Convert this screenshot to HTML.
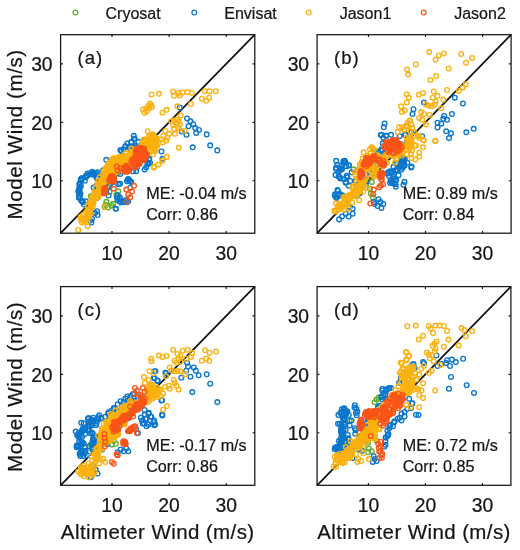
<!DOCTYPE html><html><head><meta charset="utf-8"><title>Wind scatter</title><style>html,body{margin:0;padding:0;background:#fff}svg{display:block}</style></head><body><svg width="520" height="550" viewBox="0 0 520 550" font-family="'Liberation Sans', sans-serif" fill="#151515">
<rect width="520" height="550" fill="#fff"/>
<style>text{stroke:#151515;stroke-width:0.22px}</style>
<circle cx="75.5" cy="12.6" r="2.4" fill="none" stroke="#5aae2a" stroke-width="1.2"/>
<text x="105.5" y="19.4" font-size="16">Cryosat</text>
<circle cx="194.3" cy="12.6" r="2.4" fill="none" stroke="#0a76cc" stroke-width="1.2"/>
<text x="224.3" y="19.4" font-size="16">Envisat</text>
<circle cx="308.7" cy="12.6" r="2.4" fill="none" stroke="#fab10f" stroke-width="1.2"/>
<text x="339.7" y="19.4" font-size="16">Jason1</text>
<circle cx="423.7" cy="12.6" r="2.4" fill="none" stroke="#fa5416" stroke-width="1.2"/>
<text x="454.2" y="19.4" font-size="16">Jason2</text>
<line x1="60.6" y1="233.2" x2="254.8" y2="34.7" stroke="#111" stroke-width="1.75"/>
<g fill="none" stroke-width="1.35">
<g stroke="#5aae2a">
<circle cx="106.4" cy="201.9" r="2.35"/><circle cx="104.5" cy="206.9" r="2.35"/><circle cx="108.2" cy="207.5" r="2.35"/><circle cx="113.2" cy="203.8" r="2.35"/><circle cx="111.4" cy="205.6" r="2.35"/><circle cx="116.4" cy="195.0" r="2.35"/><circle cx="118.2" cy="191.2" r="2.35"/><circle cx="119.5" cy="183.8" r="2.35"/><circle cx="109.5" cy="191.9" r="2.35"/><circle cx="95.1" cy="191.2" r="2.35"/><circle cx="90.8" cy="196.2" r="2.35"/><circle cx="105.8" cy="205.0" r="2.35"/>
</g>
<g stroke="#0a76cc">
<circle cx="96.3" cy="173.0" r="2.35"/><circle cx="97.8" cy="172.2" r="2.35"/><circle cx="94.1" cy="172.9" r="2.35"/><circle cx="95.1" cy="174.4" r="2.35"/><circle cx="92.1" cy="171.8" r="2.35"/><circle cx="93.2" cy="174.0" r="2.35"/><circle cx="93.1" cy="174.8" r="2.35"/><circle cx="90.2" cy="173.6" r="2.35"/><circle cx="92.3" cy="174.1" r="2.35"/><circle cx="87.5" cy="173.6" r="2.35"/><circle cx="87.6" cy="175.6" r="2.35"/><circle cx="86.1" cy="175.8" r="2.35"/><circle cx="85.9" cy="177.1" r="2.35"/><circle cx="85.8" cy="177.1" r="2.35"/><circle cx="81.9" cy="178.4" r="2.35"/><circle cx="81.6" cy="178.2" r="2.35"/><circle cx="80.8" cy="179.2" r="2.35"/><circle cx="80.9" cy="180.3" r="2.35"/><circle cx="84.8" cy="180.8" r="2.35"/><circle cx="81.5" cy="180.3" r="2.35"/><circle cx="79.8" cy="183.5" r="2.35"/><circle cx="79.7" cy="184.2" r="2.35"/><circle cx="79.5" cy="183.7" r="2.35"/><circle cx="79.7" cy="184.9" r="2.35"/><circle cx="80.9" cy="186.3" r="2.35"/><circle cx="79.4" cy="187.9" r="2.35"/><circle cx="79.5" cy="188.3" r="2.35"/><circle cx="79.3" cy="189.9" r="2.35"/><circle cx="79.5" cy="191.8" r="2.35"/><circle cx="78.3" cy="191.3" r="2.35"/><circle cx="79.2" cy="193.7" r="2.35"/><circle cx="80.4" cy="193.8" r="2.35"/><circle cx="79.3" cy="195.9" r="2.35"/><circle cx="79.2" cy="196.6" r="2.35"/><circle cx="79.7" cy="196.6" r="2.35"/><circle cx="78.9" cy="197.8" r="2.35"/><circle cx="81.2" cy="200.8" r="2.35"/><circle cx="82.2" cy="201.3" r="2.35"/><circle cx="82.6" cy="201.6" r="2.35"/><circle cx="82.9" cy="202.2" r="2.35"/><circle cx="85.7" cy="201.4" r="2.35"/><circle cx="83.9" cy="204.5" r="2.35"/><circle cx="96.8" cy="178.2" r="2.35"/><circle cx="97.8" cy="178.1" r="2.35"/><circle cx="99.8" cy="183.0" r="2.35"/><circle cx="97.7" cy="184.0" r="2.35"/><circle cx="97.5" cy="184.4" r="2.35"/><circle cx="97.0" cy="187.7" r="2.35"/><circle cx="97.8" cy="190.0" r="2.35"/><circle cx="95.7" cy="192.4" r="2.35"/><circle cx="97.0" cy="211.2" r="2.35"/><circle cx="97.6" cy="215.0" r="2.35"/><circle cx="92.0" cy="218.8" r="2.35"/><circle cx="91.4" cy="222.5" r="2.35"/><circle cx="95.1" cy="213.1" r="2.35"/><circle cx="90.1" cy="220.6" r="2.35"/><circle cx="115.8" cy="208.8" r="2.35"/><circle cx="117.0" cy="197.5" r="2.35"/><circle cx="119.5" cy="201.2" r="2.35"/><circle cx="123.2" cy="201.2" r="2.35"/><circle cx="126.4" cy="200.0" r="2.35"/><circle cx="117.6" cy="200.0" r="2.35"/><circle cx="120.8" cy="202.5" r="2.35"/><circle cx="127.0" cy="181.2" r="2.35"/><circle cx="120.1" cy="183.8" r="2.35"/><circle cx="119.6" cy="197.3" r="2.35"/><circle cx="127.3" cy="202.1" r="2.35"/><circle cx="129.2" cy="180.0" r="2.35"/><circle cx="115.8" cy="208.8" r="2.35"/><circle cx="133.1" cy="171.3" r="2.35"/><circle cx="136.9" cy="167.5" r="2.35"/><circle cx="147.5" cy="162.7" r="2.35"/><circle cx="145.6" cy="158.8" r="2.35"/><circle cx="125.4" cy="146.3" r="2.35"/><circle cx="134.0" cy="138.7" r="2.35"/><circle cx="131.2" cy="142.5" r="2.35"/><circle cx="106.2" cy="159.8" r="2.35"/><circle cx="123.5" cy="149.2" r="2.35"/><circle cx="127.3" cy="143.5" r="2.35"/><circle cx="117.7" cy="195.4" r="2.35"/><circle cx="120.6" cy="199.2" r="2.35"/><circle cx="124.4" cy="202.1" r="2.35"/><circle cx="128.3" cy="201.2" r="2.35"/><circle cx="130.2" cy="187.7" r="2.35"/><circle cx="131.2" cy="181.9" r="2.35"/><circle cx="128.3" cy="179.0" r="2.35"/><circle cx="133.8" cy="135.8" r="2.35"/><circle cx="134.6" cy="138.8" r="2.35"/><circle cx="131.5" cy="141.9" r="2.35"/><circle cx="125.4" cy="146.5" r="2.35"/><circle cx="129.2" cy="147.3" r="2.35"/><circle cx="121.5" cy="151.2" r="2.35"/><circle cx="138.5" cy="141.9" r="2.35"/><circle cx="149.2" cy="158.8" r="2.35"/><circle cx="146.2" cy="157.3" r="2.35"/><circle cx="148.5" cy="163.5" r="2.35"/><circle cx="179.8" cy="107.5" r="2.35"/><circle cx="187.1" cy="118.5" r="2.35"/><circle cx="190.4" cy="121.3" r="2.35"/><circle cx="188.5" cy="126.2" r="2.35"/><circle cx="193.3" cy="124.2" r="2.35"/><circle cx="195.2" cy="128.1" r="2.35"/><circle cx="199.0" cy="130.0" r="2.35"/><circle cx="196.2" cy="132.9" r="2.35"/><circle cx="181.7" cy="131.5" r="2.35"/><circle cx="186.5" cy="134.8" r="2.35"/><circle cx="206.7" cy="134.4" r="2.35"/><circle cx="192.7" cy="147.3" r="2.35"/><circle cx="210.2" cy="145.4" r="2.35"/><circle cx="217.3" cy="150.4" r="2.35"/><circle cx="161.5" cy="151.5" r="2.35"/><circle cx="162.5" cy="158.8" r="2.35"/><circle cx="96.9" cy="197.9" r="2.35"/><circle cx="106.0" cy="191.7" r="2.35"/><circle cx="93.6" cy="187.6" r="2.35"/><circle cx="103.4" cy="192.8" r="2.35"/><circle cx="109.9" cy="184.5" r="2.35"/><circle cx="103.6" cy="190.7" r="2.35"/><circle cx="103.6" cy="175.8" r="2.35"/><circle cx="108.6" cy="195.5" r="2.35"/><circle cx="110.1" cy="179.6" r="2.35"/><circle cx="104.4" cy="183.5" r="2.35"/><circle cx="118.1" cy="183.9" r="2.35"/><circle cx="108.1" cy="186.8" r="2.35"/><circle cx="107.9" cy="186.9" r="2.35"/><circle cx="105.8" cy="175.0" r="2.35"/><circle cx="112.8" cy="182.3" r="2.35"/><circle cx="113.3" cy="176.0" r="2.35"/><circle cx="103.2" cy="170.4" r="2.35"/><circle cx="109.7" cy="170.1" r="2.35"/><circle cx="116.1" cy="170.0" r="2.35"/><circle cx="118.1" cy="170.8" r="2.35"/><circle cx="114.1" cy="169.9" r="2.35"/><circle cx="118.6" cy="172.2" r="2.35"/><circle cx="115.5" cy="166.3" r="2.35"/><circle cx="112.6" cy="173.5" r="2.35"/><circle cx="126.3" cy="164.4" r="2.35"/><circle cx="118.7" cy="158.6" r="2.35"/><circle cx="122.6" cy="164.1" r="2.35"/><circle cx="132.7" cy="163.2" r="2.35"/><circle cx="120.4" cy="150.1" r="2.35"/><circle cx="131.3" cy="160.9" r="2.35"/><circle cx="119.0" cy="160.0" r="2.35"/><circle cx="120.2" cy="174.0" r="2.35"/><circle cx="133.7" cy="160.1" r="2.35"/><circle cx="129.1" cy="147.1" r="2.35"/><circle cx="130.5" cy="148.9" r="2.35"/><circle cx="135.0" cy="145.5" r="2.35"/><circle cx="129.5" cy="159.8" r="2.35"/><circle cx="142.2" cy="148.1" r="2.35"/><circle cx="129.1" cy="156.6" r="2.35"/><circle cx="141.1" cy="147.4" r="2.35"/><circle cx="135.4" cy="147.9" r="2.35"/><circle cx="134.4" cy="147.1" r="2.35"/><circle cx="146.6" cy="152.5" r="2.35"/><circle cx="151.4" cy="148.1" r="2.35"/><circle cx="142.7" cy="143.2" r="2.35"/><circle cx="144.0" cy="140.9" r="2.35"/><circle cx="137.8" cy="149.1" r="2.35"/><circle cx="153.5" cy="148.9" r="2.35"/><circle cx="154.2" cy="145.4" r="2.35"/><circle cx="146.2" cy="143.8" r="2.35"/><circle cx="146.2" cy="167.3" r="2.35"/><circle cx="147.7" cy="164.2" r="2.35"/><circle cx="149.2" cy="159.6" r="2.35"/><circle cx="136.2" cy="171.2" r="2.35"/><circle cx="130.8" cy="168.1" r="2.35"/><circle cx="144.6" cy="169.6" r="2.35"/><circle cx="150.0" cy="162.7" r="2.35"/><circle cx="127.7" cy="179.6" r="2.35"/><circle cx="130.0" cy="181.2" r="2.35"/>
</g>
<g stroke="#fab10f">
<circle cx="83.3" cy="218.2" r="2.35"/><circle cx="80.8" cy="216.7" r="2.35"/><circle cx="84.8" cy="219.6" r="2.35"/><circle cx="84.2" cy="221.7" r="2.35"/><circle cx="85.9" cy="219.2" r="2.35"/><circle cx="88.6" cy="215.4" r="2.35"/><circle cx="81.9" cy="218.2" r="2.35"/><circle cx="85.1" cy="218.7" r="2.35"/><circle cx="87.7" cy="217.4" r="2.35"/><circle cx="88.9" cy="209.9" r="2.35"/><circle cx="89.2" cy="212.3" r="2.35"/><circle cx="86.3" cy="212.2" r="2.35"/><circle cx="89.9" cy="214.3" r="2.35"/><circle cx="90.7" cy="208.0" r="2.35"/><circle cx="87.5" cy="205.7" r="2.35"/><circle cx="88.8" cy="211.6" r="2.35"/><circle cx="87.6" cy="210.1" r="2.35"/><circle cx="90.1" cy="211.0" r="2.35"/><circle cx="88.0" cy="206.3" r="2.35"/><circle cx="88.4" cy="211.2" r="2.35"/><circle cx="92.8" cy="206.4" r="2.35"/><circle cx="91.1" cy="206.2" r="2.35"/><circle cx="91.4" cy="204.8" r="2.35"/><circle cx="90.5" cy="201.8" r="2.35"/><circle cx="90.2" cy="207.5" r="2.35"/><circle cx="93.2" cy="203.3" r="2.35"/><circle cx="91.9" cy="202.7" r="2.35"/><circle cx="93.6" cy="200.4" r="2.35"/><circle cx="93.6" cy="201.7" r="2.35"/><circle cx="91.9" cy="198.8" r="2.35"/><circle cx="91.7" cy="197.5" r="2.35"/><circle cx="96.3" cy="194.0" r="2.35"/><circle cx="94.1" cy="197.2" r="2.35"/><circle cx="93.7" cy="198.1" r="2.35"/><circle cx="98.0" cy="197.4" r="2.35"/><circle cx="95.6" cy="195.2" r="2.35"/><circle cx="96.1" cy="198.0" r="2.35"/><circle cx="95.9" cy="192.8" r="2.35"/><circle cx="94.4" cy="192.2" r="2.35"/><circle cx="94.6" cy="196.5" r="2.35"/><circle cx="98.8" cy="192.9" r="2.35"/><circle cx="101.7" cy="191.3" r="2.35"/><circle cx="100.6" cy="193.9" r="2.35"/><circle cx="95.8" cy="188.0" r="2.35"/><circle cx="97.3" cy="192.7" r="2.35"/><circle cx="102.4" cy="187.2" r="2.35"/><circle cx="102.1" cy="188.4" r="2.35"/><circle cx="99.1" cy="187.2" r="2.35"/><circle cx="99.5" cy="183.7" r="2.35"/><circle cx="98.2" cy="184.3" r="2.35"/><circle cx="101.7" cy="190.8" r="2.35"/><circle cx="106.9" cy="184.8" r="2.35"/><circle cx="97.3" cy="183.9" r="2.35"/><circle cx="99.2" cy="188.4" r="2.35"/><circle cx="102.7" cy="181.7" r="2.35"/><circle cx="103.8" cy="183.7" r="2.35"/><circle cx="98.3" cy="180.7" r="2.35"/><circle cx="101.6" cy="181.1" r="2.35"/><circle cx="102.6" cy="179.6" r="2.35"/><circle cx="103.0" cy="178.3" r="2.35"/><circle cx="100.8" cy="182.2" r="2.35"/><circle cx="103.8" cy="179.1" r="2.35"/><circle cx="99.8" cy="177.1" r="2.35"/><circle cx="105.4" cy="173.9" r="2.35"/><circle cx="106.4" cy="175.2" r="2.35"/><circle cx="105.2" cy="175.1" r="2.35"/><circle cx="105.1" cy="177.3" r="2.35"/><circle cx="104.1" cy="177.4" r="2.35"/><circle cx="103.6" cy="171.3" r="2.35"/><circle cx="107.2" cy="170.3" r="2.35"/><circle cx="105.2" cy="173.9" r="2.35"/><circle cx="109.0" cy="167.4" r="2.35"/><circle cx="107.8" cy="174.7" r="2.35"/><circle cx="109.7" cy="169.4" r="2.35"/><circle cx="106.3" cy="168.7" r="2.35"/><circle cx="105.6" cy="168.2" r="2.35"/><circle cx="108.3" cy="168.0" r="2.35"/><circle cx="111.9" cy="167.2" r="2.35"/><circle cx="106.6" cy="169.5" r="2.35"/><circle cx="108.0" cy="165.7" r="2.35"/><circle cx="110.6" cy="165.4" r="2.35"/><circle cx="109.2" cy="165.0" r="2.35"/><circle cx="116.8" cy="163.7" r="2.35"/><circle cx="112.3" cy="167.1" r="2.35"/><circle cx="114.9" cy="165.9" r="2.35"/><circle cx="115.9" cy="159.5" r="2.35"/><circle cx="112.7" cy="163.8" r="2.35"/><circle cx="116.4" cy="166.0" r="2.35"/><circle cx="117.0" cy="162.2" r="2.35"/><circle cx="116.7" cy="161.9" r="2.35"/><circle cx="117.8" cy="163.5" r="2.35"/><circle cx="117.2" cy="159.8" r="2.35"/><circle cx="116.7" cy="163.6" r="2.35"/><circle cx="122.1" cy="163.0" r="2.35"/><circle cx="121.9" cy="162.3" r="2.35"/><circle cx="120.7" cy="161.6" r="2.35"/><circle cx="119.0" cy="159.4" r="2.35"/><circle cx="120.4" cy="161.1" r="2.35"/><circle cx="121.5" cy="158.9" r="2.35"/><circle cx="124.3" cy="161.8" r="2.35"/><circle cx="122.4" cy="156.4" r="2.35"/><circle cx="126.6" cy="155.7" r="2.35"/><circle cx="126.5" cy="156.5" r="2.35"/><circle cx="125.9" cy="153.4" r="2.35"/><circle cx="128.4" cy="156.0" r="2.35"/><circle cx="125.5" cy="161.3" r="2.35"/><circle cx="129.7" cy="164.0" r="2.35"/><circle cx="129.7" cy="155.1" r="2.35"/><circle cx="129.7" cy="159.0" r="2.35"/><circle cx="130.1" cy="156.0" r="2.35"/><circle cx="131.9" cy="152.6" r="2.35"/><circle cx="131.7" cy="153.1" r="2.35"/><circle cx="129.3" cy="155.8" r="2.35"/><circle cx="134.2" cy="153.6" r="2.35"/><circle cx="131.4" cy="148.6" r="2.35"/><circle cx="135.1" cy="152.4" r="2.35"/><circle cx="131.0" cy="152.1" r="2.35"/><circle cx="132.0" cy="151.7" r="2.35"/><circle cx="136.3" cy="152.2" r="2.35"/><circle cx="137.1" cy="151.4" r="2.35"/><circle cx="134.8" cy="149.7" r="2.35"/><circle cx="136.8" cy="149.7" r="2.35"/><circle cx="139.2" cy="151.1" r="2.35"/><circle cx="142.8" cy="143.7" r="2.35"/><circle cx="140.8" cy="148.5" r="2.35"/><circle cx="145.5" cy="150.6" r="2.35"/><circle cx="137.5" cy="149.0" r="2.35"/><circle cx="140.7" cy="149.9" r="2.35"/><circle cx="140.1" cy="147.1" r="2.35"/><circle cx="142.8" cy="146.7" r="2.35"/><circle cx="142.5" cy="142.5" r="2.35"/><circle cx="145.5" cy="148.4" r="2.35"/><circle cx="145.0" cy="143.5" r="2.35"/><circle cx="146.2" cy="146.6" r="2.35"/><circle cx="146.1" cy="145.0" r="2.35"/><circle cx="150.2" cy="142.2" r="2.35"/><circle cx="146.6" cy="140.1" r="2.35"/><circle cx="146.9" cy="142.3" r="2.35"/><circle cx="147.0" cy="142.0" r="2.35"/><circle cx="153.7" cy="142.7" r="2.35"/><circle cx="150.1" cy="147.5" r="2.35"/><circle cx="150.9" cy="138.4" r="2.35"/><circle cx="152.5" cy="139.6" r="2.35"/><circle cx="155.8" cy="138.5" r="2.35"/><circle cx="151.5" cy="137.2" r="2.35"/><circle cx="153.6" cy="138.0" r="2.35"/><circle cx="153.8" cy="138.9" r="2.35"/><circle cx="153.2" cy="141.3" r="2.35"/><circle cx="157.2" cy="138.9" r="2.35"/><circle cx="153.7" cy="135.9" r="2.35"/><circle cx="117.9" cy="160.7" r="2.35"/><circle cx="120.0" cy="163.4" r="2.35"/><circle cx="115.5" cy="163.7" r="2.35"/><circle cx="122.7" cy="164.8" r="2.35"/><circle cx="120.6" cy="166.1" r="2.35"/><circle cx="109.5" cy="169.0" r="2.35"/><circle cx="109.2" cy="163.4" r="2.35"/><circle cx="114.1" cy="174.7" r="2.35"/><circle cx="116.9" cy="164.7" r="2.35"/><circle cx="126.7" cy="157.7" r="2.35"/><circle cx="120.4" cy="166.7" r="2.35"/><circle cx="108.0" cy="171.6" r="2.35"/><circle cx="108.4" cy="171.7" r="2.35"/><circle cx="114.1" cy="158.6" r="2.35"/><circle cx="124.9" cy="156.4" r="2.35"/><circle cx="117.3" cy="166.2" r="2.35"/><circle cx="110.8" cy="165.7" r="2.35"/><circle cx="119.8" cy="163.4" r="2.35"/><circle cx="113.0" cy="172.0" r="2.35"/><circle cx="110.6" cy="174.8" r="2.35"/><circle cx="117.1" cy="172.1" r="2.35"/><circle cx="114.0" cy="166.6" r="2.35"/><circle cx="120.4" cy="170.0" r="2.35"/><circle cx="120.4" cy="161.1" r="2.35"/><circle cx="114.4" cy="159.3" r="2.35"/><circle cx="118.1" cy="162.8" r="2.35"/><circle cx="112.9" cy="160.8" r="2.35"/><circle cx="116.1" cy="168.5" r="2.35"/><circle cx="112.6" cy="163.7" r="2.35"/><circle cx="116.8" cy="163.2" r="2.35"/><circle cx="122.2" cy="160.8" r="2.35"/><circle cx="118.5" cy="158.3" r="2.35"/><circle cx="123.2" cy="161.7" r="2.35"/><circle cx="110.5" cy="165.6" r="2.35"/><circle cx="120.5" cy="162.9" r="2.35"/><circle cx="119.0" cy="165.4" r="2.35"/><circle cx="118.5" cy="157.4" r="2.35"/><circle cx="110.0" cy="169.0" r="2.35"/><circle cx="114.8" cy="158.8" r="2.35"/><circle cx="112.7" cy="160.0" r="2.35"/><circle cx="108.3" cy="175.2" r="2.35"/><circle cx="118.1" cy="166.1" r="2.35"/><circle cx="112.8" cy="167.7" r="2.35"/><circle cx="107.9" cy="169.2" r="2.35"/><circle cx="124.4" cy="164.8" r="2.35"/><circle cx="123.8" cy="161.2" r="2.35"/><circle cx="119.0" cy="157.4" r="2.35"/><circle cx="111.8" cy="164.3" r="2.35"/><circle cx="121.4" cy="158.4" r="2.35"/><circle cx="112.4" cy="169.4" r="2.35"/><circle cx="125.2" cy="165.7" r="2.35"/><circle cx="112.9" cy="165.5" r="2.35"/><circle cx="117.0" cy="164.2" r="2.35"/><circle cx="118.0" cy="159.9" r="2.35"/><circle cx="111.0" cy="172.7" r="2.35"/><circle cx="104.7" cy="171.1" r="2.35"/><circle cx="122.6" cy="163.6" r="2.35"/><circle cx="107.6" cy="165.6" r="2.35"/><circle cx="114.7" cy="170.7" r="2.35"/><circle cx="109.2" cy="163.8" r="2.35"/><circle cx="78.2" cy="230.0" r="2.35"/><circle cx="82.0" cy="222.5" r="2.35"/><circle cx="87.6" cy="226.2" r="2.35"/><circle cx="80.8" cy="220.0" r="2.35"/><circle cx="85.1" cy="218.8" r="2.35"/><circle cx="83.2" cy="215.0" r="2.35"/><circle cx="87.0" cy="221.9" r="2.35"/><circle cx="88.9" cy="217.5" r="2.35"/><circle cx="154.2" cy="166.5" r="2.35"/><circle cx="105.2" cy="206.9" r="2.35"/><circle cx="143.1" cy="109.6" r="2.35"/><circle cx="144.6" cy="112.7" r="2.35"/><circle cx="146.9" cy="111.2" r="2.35"/><circle cx="149.2" cy="108.1" r="2.35"/><circle cx="150.0" cy="103.5" r="2.35"/><circle cx="148.5" cy="105.8" r="2.35"/><circle cx="146.2" cy="108.8" r="2.35"/><circle cx="147.7" cy="131.2" r="2.35"/><circle cx="153.2" cy="144.4" r="2.35"/><circle cx="156.0" cy="142.0" r="2.35"/><circle cx="154.5" cy="139.5" r="2.35"/><circle cx="147.8" cy="141.3" r="2.35"/><circle cx="146.8" cy="140.6" r="2.35"/><circle cx="148.4" cy="140.6" r="2.35"/><circle cx="148.9" cy="141.1" r="2.35"/><circle cx="146.1" cy="144.3" r="2.35"/><circle cx="154.4" cy="143.9" r="2.35"/><circle cx="155.0" cy="144.3" r="2.35"/><circle cx="145.8" cy="147.9" r="2.35"/><circle cx="155.6" cy="139.1" r="2.35"/><circle cx="143.7" cy="143.4" r="2.35"/><circle cx="150.9" cy="144.4" r="2.35"/><circle cx="156.8" cy="145.9" r="2.35"/><circle cx="151.0" cy="148.5" r="2.35"/><circle cx="153.6" cy="150.5" r="2.35"/><circle cx="144.6" cy="145.6" r="2.35"/><circle cx="145.4" cy="147.7" r="2.35"/><circle cx="152.4" cy="138.5" r="2.35"/><circle cx="146.4" cy="148.1" r="2.35"/><circle cx="150.6" cy="148.0" r="2.35"/><circle cx="148.8" cy="140.2" r="2.35"/><circle cx="156.8" cy="146.3" r="2.35"/><circle cx="150.2" cy="143.8" r="2.35"/><circle cx="153.4" cy="147.0" r="2.35"/><circle cx="156.1" cy="141.5" r="2.35"/><circle cx="154.8" cy="146.2" r="2.35"/><circle cx="155.2" cy="148.8" r="2.35"/><circle cx="156.6" cy="145.7" r="2.35"/><circle cx="150.6" cy="147.0" r="2.35"/><circle cx="154.5" cy="141.7" r="2.35"/><circle cx="149.2" cy="136.6" r="2.35"/><circle cx="148.6" cy="137.0" r="2.35"/><circle cx="146.2" cy="141.8" r="2.35"/><circle cx="144.2" cy="139.6" r="2.35"/><circle cx="145.0" cy="145.9" r="2.35"/><circle cx="154.1" cy="137.2" r="2.35"/><circle cx="144.2" cy="142.4" r="2.35"/><circle cx="151.5" cy="150.7" r="2.35"/><circle cx="113.9" cy="158.9" r="2.35"/><circle cx="114.8" cy="164.3" r="2.35"/><circle cx="120.8" cy="159.0" r="2.35"/><circle cx="113.9" cy="159.6" r="2.35"/><circle cx="113.7" cy="164.7" r="2.35"/><circle cx="116.0" cy="162.4" r="2.35"/><circle cx="124.6" cy="161.7" r="2.35"/><circle cx="115.2" cy="166.1" r="2.35"/><circle cx="126.2" cy="160.2" r="2.35"/><circle cx="120.0" cy="166.8" r="2.35"/><circle cx="118.9" cy="158.9" r="2.35"/><circle cx="124.3" cy="160.7" r="2.35"/><circle cx="119.7" cy="162.1" r="2.35"/><circle cx="121.9" cy="159.1" r="2.35"/><circle cx="111.0" cy="161.6" r="2.35"/><circle cx="117.1" cy="165.1" r="2.35"/><circle cx="122.8" cy="163.1" r="2.35"/><circle cx="113.4" cy="158.2" r="2.35"/><circle cx="116.2" cy="159.3" r="2.35"/><circle cx="125.5" cy="162.1" r="2.35"/><circle cx="115.3" cy="162.3" r="2.35"/><circle cx="113.3" cy="164.8" r="2.35"/><circle cx="125.1" cy="165.4" r="2.35"/><circle cx="112.2" cy="159.4" r="2.35"/><circle cx="122.9" cy="157.6" r="2.35"/><circle cx="118.9" cy="161.6" r="2.35"/><circle cx="126.9" cy="162.9" r="2.35"/><circle cx="125.3" cy="159.8" r="2.35"/><circle cx="151.5" cy="94.4" r="2.35"/><circle cx="159.0" cy="93.8" r="2.35"/><circle cx="173.1" cy="91.5" r="2.35"/><circle cx="174.0" cy="95.8" r="2.35"/><circle cx="178.8" cy="93.1" r="2.35"/><circle cx="179.8" cy="95.4" r="2.35"/><circle cx="182.7" cy="92.5" r="2.35"/><circle cx="187.5" cy="92.1" r="2.35"/><circle cx="191.9" cy="92.9" r="2.35"/><circle cx="204.8" cy="91.2" r="2.35"/><circle cx="209.6" cy="91.2" r="2.35"/><circle cx="215.8" cy="91.2" r="2.35"/><circle cx="201.9" cy="98.7" r="2.35"/><circle cx="206.3" cy="100.8" r="2.35"/><circle cx="209.2" cy="97.7" r="2.35"/><circle cx="191.0" cy="104.0" r="2.35"/><circle cx="166.7" cy="109.8" r="2.35"/><circle cx="162.5" cy="112.7" r="2.35"/><circle cx="177.3" cy="106.3" r="2.35"/><circle cx="180.8" cy="115.6" r="2.35"/><circle cx="171.2" cy="121.3" r="2.35"/><circle cx="174.0" cy="120.4" r="2.35"/><circle cx="176.9" cy="119.4" r="2.35"/><circle cx="178.8" cy="121.3" r="2.35"/><circle cx="176.0" cy="123.3" r="2.35"/><circle cx="179.8" cy="124.2" r="2.35"/><circle cx="173.1" cy="125.2" r="2.35"/><circle cx="177.9" cy="127.1" r="2.35"/><circle cx="174.0" cy="129.0" r="2.35"/><circle cx="178.8" cy="129.0" r="2.35"/><circle cx="184.6" cy="131.0" r="2.35"/><circle cx="175.0" cy="133.8" r="2.35"/><circle cx="169.2" cy="133.8" r="2.35"/><circle cx="165.4" cy="131.0" r="2.35"/><circle cx="163.5" cy="135.8" r="2.35"/><circle cx="167.3" cy="137.7" r="2.35"/><circle cx="161.5" cy="139.6" r="2.35"/><circle cx="162.5" cy="142.5" r="2.35"/><circle cx="166.3" cy="140.6" r="2.35"/><circle cx="178.8" cy="147.7" r="2.35"/><circle cx="166.7" cy="156.9" r="2.35"/><circle cx="162.5" cy="160.8" r="2.35"/><circle cx="158.7" cy="164.6" r="2.35"/><circle cx="153.8" cy="167.5" r="2.35"/><circle cx="151.0" cy="105.0" r="2.35"/><circle cx="151.9" cy="106.9" r="2.35"/><circle cx="155.5" cy="142.7" r="2.35"/><circle cx="155.7" cy="138.3" r="2.35"/><circle cx="153.8" cy="145.0" r="2.35"/><circle cx="151.1" cy="151.4" r="2.35"/><circle cx="152.2" cy="140.4" r="2.35"/><circle cx="150.5" cy="140.3" r="2.35"/><circle cx="153.2" cy="149.0" r="2.35"/><circle cx="152.5" cy="148.4" r="2.35"/><circle cx="150.7" cy="142.2" r="2.35"/><circle cx="153.2" cy="154.3" r="2.35"/><circle cx="155.7" cy="147.7" r="2.35"/><circle cx="154.9" cy="138.9" r="2.35"/><circle cx="153.9" cy="143.5" r="2.35"/><circle cx="155.5" cy="138.2" r="2.35"/><circle cx="154.3" cy="140.0" r="2.35"/><circle cx="152.6" cy="145.3" r="2.35"/><circle cx="152.1" cy="141.0" r="2.35"/><circle cx="152.7" cy="147.9" r="2.35"/><circle cx="151.8" cy="138.1" r="2.35"/><circle cx="155.1" cy="140.8" r="2.35"/><circle cx="156.5" cy="145.8" r="2.35"/><circle cx="155.0" cy="140.9" r="2.35"/><circle cx="154.7" cy="148.8" r="2.35"/><circle cx="151.2" cy="142.4" r="2.35"/><circle cx="155.8" cy="146.4" r="2.35"/><circle cx="150.6" cy="138.6" r="2.35"/><circle cx="152.8" cy="135.4" r="2.35"/><circle cx="156.4" cy="142.9" r="2.35"/><circle cx="153.5" cy="147.5" r="2.35"/><circle cx="155.3" cy="151.2" r="2.35"/><circle cx="152.7" cy="140.9" r="2.35"/><circle cx="152.9" cy="134.2" r="2.35"/>
</g>
<g stroke="#fa5416">
<circle cx="139.5" cy="156.8" r="2.35"/><circle cx="142.7" cy="155.8" r="2.35"/><circle cx="138.8" cy="156.2" r="2.35"/><circle cx="135.9" cy="153.3" r="2.35"/><circle cx="140.9" cy="157.7" r="2.35"/><circle cx="144.8" cy="155.8" r="2.35"/><circle cx="136.6" cy="157.5" r="2.35"/><circle cx="145.7" cy="155.1" r="2.35"/><circle cx="139.0" cy="154.6" r="2.35"/><circle cx="136.4" cy="156.9" r="2.35"/><circle cx="146.8" cy="154.8" r="2.35"/><circle cx="143.4" cy="158.2" r="2.35"/><circle cx="142.3" cy="151.4" r="2.35"/><circle cx="135.6" cy="151.9" r="2.35"/><circle cx="141.7" cy="156.7" r="2.35"/><circle cx="138.7" cy="159.2" r="2.35"/><circle cx="139.1" cy="154.2" r="2.35"/><circle cx="141.3" cy="155.3" r="2.35"/><circle cx="141.5" cy="152.1" r="2.35"/><circle cx="144.7" cy="155.7" r="2.35"/><circle cx="136.1" cy="158.1" r="2.35"/><circle cx="138.2" cy="158.9" r="2.35"/><circle cx="137.6" cy="155.4" r="2.35"/><circle cx="144.8" cy="151.2" r="2.35"/><circle cx="141.4" cy="150.1" r="2.35"/><circle cx="142.7" cy="152.5" r="2.35"/><circle cx="142.9" cy="157.2" r="2.35"/><circle cx="139.3" cy="155.6" r="2.35"/><circle cx="137.1" cy="154.3" r="2.35"/><circle cx="136.4" cy="153.4" r="2.35"/><circle cx="141.6" cy="151.1" r="2.35"/><circle cx="141.0" cy="152.1" r="2.35"/><circle cx="141.6" cy="152.8" r="2.35"/><circle cx="142.5" cy="149.6" r="2.35"/><circle cx="142.9" cy="150.8" r="2.35"/><circle cx="146.4" cy="155.7" r="2.35"/><circle cx="140.4" cy="153.7" r="2.35"/><circle cx="142.3" cy="156.7" r="2.35"/><circle cx="143.9" cy="157.3" r="2.35"/><circle cx="140.6" cy="159.9" r="2.35"/><circle cx="144.9" cy="158.4" r="2.35"/><circle cx="139.6" cy="153.9" r="2.35"/><circle cx="141.6" cy="159.0" r="2.35"/><circle cx="141.1" cy="154.9" r="2.35"/><circle cx="116.7" cy="166.5" r="2.35"/><circle cx="117.7" cy="170.4" r="2.35"/><circle cx="125.4" cy="166.5" r="2.35"/><circle cx="120.6" cy="168.5" r="2.35"/><circle cx="134.0" cy="185.8" r="2.35"/><circle cx="126.3" cy="189.6" r="2.35"/><circle cx="132.1" cy="191.5" r="2.35"/><circle cx="128.3" cy="194.4" r="2.35"/><circle cx="130.2" cy="197.3" r="2.35"/><circle cx="127.3" cy="201.2" r="2.35"/><circle cx="113.8" cy="188.7" r="2.35"/><circle cx="111.9" cy="181.4" r="2.35"/><circle cx="111.1" cy="176.5" r="2.35"/><circle cx="113.8" cy="181.3" r="2.35"/><circle cx="113.8" cy="179.6" r="2.35"/><circle cx="114.0" cy="177.9" r="2.35"/><circle cx="112.9" cy="176.6" r="2.35"/><circle cx="109.9" cy="178.7" r="2.35"/><circle cx="112.3" cy="178.4" r="2.35"/><circle cx="109.4" cy="180.2" r="2.35"/><circle cx="112.5" cy="177.5" r="2.35"/><circle cx="111.0" cy="178.4" r="2.35"/><circle cx="113.4" cy="181.2" r="2.35"/><circle cx="111.8" cy="180.8" r="2.35"/><circle cx="110.5" cy="180.5" r="2.35"/><circle cx="112.7" cy="181.4" r="2.35"/><circle cx="109.7" cy="180.7" r="2.35"/><circle cx="109.8" cy="179.3" r="2.35"/><circle cx="110.6" cy="177.9" r="2.35"/><circle cx="111.2" cy="176.5" r="2.35"/><circle cx="111.6" cy="178.2" r="2.35"/><circle cx="112.9" cy="176.4" r="2.35"/><circle cx="111.1" cy="179.0" r="2.35"/><circle cx="104.6" cy="188.8" r="2.35"/><circle cx="104.1" cy="193.2" r="2.35"/><circle cx="105.4" cy="189.7" r="2.35"/><circle cx="104.6" cy="188.6" r="2.35"/><circle cx="103.9" cy="191.4" r="2.35"/><circle cx="103.9" cy="192.9" r="2.35"/><circle cx="105.1" cy="189.4" r="2.35"/><circle cx="105.1" cy="188.3" r="2.35"/><circle cx="105.1" cy="193.3" r="2.35"/><circle cx="104.5" cy="188.0" r="2.35"/><circle cx="104.0" cy="189.4" r="2.35"/><circle cx="105.1" cy="188.7" r="2.35"/><circle cx="124.5" cy="167.4" r="2.35"/><circle cx="127.3" cy="171.7" r="2.35"/><circle cx="125.6" cy="170.7" r="2.35"/><circle cx="128.6" cy="170.1" r="2.35"/><circle cx="124.8" cy="167.9" r="2.35"/><circle cx="128.8" cy="170.7" r="2.35"/><circle cx="125.1" cy="170.5" r="2.35"/><circle cx="126.0" cy="169.6" r="2.35"/><circle cx="126.5" cy="165.9" r="2.35"/><circle cx="126.9" cy="167.8" r="2.35"/><circle cx="124.9" cy="171.8" r="2.35"/><circle cx="124.0" cy="167.8" r="2.35"/><circle cx="127.8" cy="167.5" r="2.35"/><circle cx="125.1" cy="169.8" r="2.35"/><circle cx="140.4" cy="151.8" r="2.35"/><circle cx="139.6" cy="152.8" r="2.35"/><circle cx="140.8" cy="148.6" r="2.35"/><circle cx="141.3" cy="151.2" r="2.35"/><circle cx="139.3" cy="151.3" r="2.35"/><circle cx="143.6" cy="150.5" r="2.35"/><circle cx="140.8" cy="152.3" r="2.35"/><circle cx="142.6" cy="150.5" r="2.35"/><circle cx="143.6" cy="148.5" r="2.35"/><circle cx="141.9" cy="148.9" r="2.35"/><circle cx="140.2" cy="151.9" r="2.35"/><circle cx="143.7" cy="152.0" r="2.35"/><circle cx="138.1" cy="150.3" r="2.35"/><circle cx="137.9" cy="150.8" r="2.35"/><circle cx="140.8" cy="147.8" r="2.35"/><circle cx="141.8" cy="151.6" r="2.35"/><circle cx="141.5" cy="152.4" r="2.35"/><circle cx="137.5" cy="148.5" r="2.35"/><circle cx="135.9" cy="150.4" r="2.35"/><circle cx="140.1" cy="150.1" r="2.35"/><circle cx="138.4" cy="152.0" r="2.35"/><circle cx="141.5" cy="150.6" r="2.35"/><circle cx="143.7" cy="148.9" r="2.35"/><circle cx="137.2" cy="149.3" r="2.35"/><circle cx="141.7" cy="156.9" r="2.35"/><circle cx="143.4" cy="158.2" r="2.35"/><circle cx="142.4" cy="158.6" r="2.35"/><circle cx="142.1" cy="156.6" r="2.35"/><circle cx="142.0" cy="159.3" r="2.35"/><circle cx="144.1" cy="159.8" r="2.35"/><circle cx="141.7" cy="157.5" r="2.35"/><circle cx="142.7" cy="156.3" r="2.35"/><circle cx="143.0" cy="159.7" r="2.35"/><circle cx="142.9" cy="159.6" r="2.35"/><circle cx="142.7" cy="156.8" r="2.35"/><circle cx="142.8" cy="155.5" r="2.35"/><circle cx="143.9" cy="159.5" r="2.35"/><circle cx="142.2" cy="156.6" r="2.35"/><circle cx="135.8" cy="159.9" r="2.35"/><circle cx="135.1" cy="167.3" r="2.35"/><circle cx="134.2" cy="160.9" r="2.35"/><circle cx="139.5" cy="163.9" r="2.35"/><circle cx="131.4" cy="161.6" r="2.35"/><circle cx="136.7" cy="157.9" r="2.35"/><circle cx="134.0" cy="164.8" r="2.35"/><circle cx="138.5" cy="163.7" r="2.35"/><circle cx="138.7" cy="162.3" r="2.35"/><circle cx="134.5" cy="166.4" r="2.35"/><circle cx="134.4" cy="165.7" r="2.35"/><circle cx="132.9" cy="161.0" r="2.35"/><circle cx="132.7" cy="163.2" r="2.35"/><circle cx="132.5" cy="159.5" r="2.35"/><circle cx="132.9" cy="162.3" r="2.35"/><circle cx="133.7" cy="162.1" r="2.35"/><circle cx="138.5" cy="159.5" r="2.35"/><circle cx="134.4" cy="158.1" r="2.35"/><circle cx="137.0" cy="161.2" r="2.35"/><circle cx="132.6" cy="160.1" r="2.35"/><circle cx="134.5" cy="167.3" r="2.35"/><circle cx="137.2" cy="160.2" r="2.35"/><circle cx="134.2" cy="159.0" r="2.35"/><circle cx="139.1" cy="161.2" r="2.35"/>
</g>
</g>
<rect x="60.6" y="34.7" width="194.2" height="198.5" fill="none" stroke="#151515" stroke-width="1.25"/>
<path d="M112.0 233.2v-2.3M112.0 34.7v2.3M60.6 180.7h2.3M254.8 180.7h-2.3M169.1 233.2v-2.3M169.1 34.7v2.3M60.6 122.3h2.3M254.8 122.3h-2.3M226.2 233.2v-2.3M226.2 34.7v2.3M60.6 63.9h2.3M254.8 63.9h-2.3" stroke="#151515" stroke-width="1.15" fill="none"/>
<text x="112.0" y="260.2" font-size="19.3" text-anchor="middle">10</text>
<text x="52.6"  y="187.9" font-size="19.3" text-anchor="end">10</text>
<text x="169.1" y="260.2" font-size="19.3" text-anchor="middle">20</text>
<text x="52.6"  y="129.5" font-size="19.3" text-anchor="end">20</text>
<text x="226.2" y="260.2" font-size="19.3" text-anchor="middle">30</text>
<text x="52.6"  y="71.1" font-size="19.3" text-anchor="end">30</text>
<text x="77.6" y="64.0" font-size="18.5" letter-spacing="1">(a)</text>
<line x1="317.1" y1="233.2" x2="511.1" y2="34.7" stroke="#111" stroke-width="1.75"/>
<g fill="none" stroke-width="1.35">
<g stroke="#5aae2a">
<circle cx="377.6" cy="151.2" r="2.35"/><circle cx="369.9" cy="188.7" r="2.35"/><circle cx="372.8" cy="197.3" r="2.35"/><circle cx="371.8" cy="181.9" r="2.35"/><circle cx="353.5" cy="169.4" r="2.35"/><circle cx="370.8" cy="193.5" r="2.35"/><circle cx="374.7" cy="153.1" r="2.35"/>
</g>
<g stroke="#0a76cc">
<circle cx="347.3" cy="177.3" r="2.35"/><circle cx="340.2" cy="169.1" r="2.35"/><circle cx="340.3" cy="178.4" r="2.35"/><circle cx="343.4" cy="161.2" r="2.35"/><circle cx="341.4" cy="165.6" r="2.35"/><circle cx="344.6" cy="160.7" r="2.35"/><circle cx="340.1" cy="170.1" r="2.35"/><circle cx="343.8" cy="163.2" r="2.35"/><circle cx="346.4" cy="166.2" r="2.35"/><circle cx="346.7" cy="175.9" r="2.35"/><circle cx="337.4" cy="164.8" r="2.35"/><circle cx="339.6" cy="177.0" r="2.35"/><circle cx="341.6" cy="169.2" r="2.35"/><circle cx="348.9" cy="165.3" r="2.35"/><circle cx="339.8" cy="168.2" r="2.35"/><circle cx="335.5" cy="175.1" r="2.35"/><circle cx="344.1" cy="179.3" r="2.35"/><circle cx="345.8" cy="182.0" r="2.35"/><circle cx="338.5" cy="176.5" r="2.35"/><circle cx="345.7" cy="182.8" r="2.35"/><circle cx="349.0" cy="165.6" r="2.35"/><circle cx="345.2" cy="162.1" r="2.35"/><circle cx="341.9" cy="169.3" r="2.35"/><circle cx="336.0" cy="169.1" r="2.35"/><circle cx="336.2" cy="160.8" r="2.35"/><circle cx="336.2" cy="167.5" r="2.35"/><circle cx="339.1" cy="171.3" r="2.35"/><circle cx="351.6" cy="172.3" r="2.35"/><circle cx="348.7" cy="185.8" r="2.35"/><circle cx="338.7" cy="195.7" r="2.35"/><circle cx="338.0" cy="191.0" r="2.35"/><circle cx="339.7" cy="195.4" r="2.35"/><circle cx="336.5" cy="198.1" r="2.35"/><circle cx="337.5" cy="190.1" r="2.35"/><circle cx="338.9" cy="194.7" r="2.35"/><circle cx="336.2" cy="196.9" r="2.35"/><circle cx="343.9" cy="196.5" r="2.35"/><circle cx="339.6" cy="193.9" r="2.35"/><circle cx="335.0" cy="194.4" r="2.35"/><circle cx="334.9" cy="195.7" r="2.35"/><circle cx="342.3" cy="195.3" r="2.35"/><circle cx="339.1" cy="219.4" r="2.35"/><circle cx="345.8" cy="213.7" r="2.35"/><circle cx="348.7" cy="216.5" r="2.35"/><circle cx="352.6" cy="213.7" r="2.35"/><circle cx="352.6" cy="208.8" r="2.35"/><circle cx="349.7" cy="206.9" r="2.35"/><circle cx="342.0" cy="216.5" r="2.35"/><circle cx="374.7" cy="204.0" r="2.35"/><circle cx="380.5" cy="202.1" r="2.35"/><circle cx="383.3" cy="204.0" r="2.35"/><circle cx="381.4" cy="207.9" r="2.35"/><circle cx="377.6" cy="206.0" r="2.35"/><circle cx="373.7" cy="202.1" r="2.35"/><circle cx="378.5" cy="199.2" r="2.35"/><circle cx="389.1" cy="176.2" r="2.35"/><circle cx="391.0" cy="180.0" r="2.35"/><circle cx="393.9" cy="183.8" r="2.35"/><circle cx="395.8" cy="186.7" r="2.35"/><circle cx="390.1" cy="182.9" r="2.35"/><circle cx="388.2" cy="172.3" r="2.35"/><circle cx="396.8" cy="170.4" r="2.35"/><circle cx="404.5" cy="181.9" r="2.35"/><circle cx="403.5" cy="184.8" r="2.35"/><circle cx="381.4" cy="134.8" r="2.35"/><circle cx="386.2" cy="135.8" r="2.35"/><circle cx="391.0" cy="134.8" r="2.35"/><circle cx="383.3" cy="137.7" r="2.35"/><circle cx="401.6" cy="160.8" r="2.35"/><circle cx="404.5" cy="165.6" r="2.35"/><circle cx="407.4" cy="162.7" r="2.35"/><circle cx="411.2" cy="167.5" r="2.35"/><circle cx="401.6" cy="156.9" r="2.35"/><circle cx="399.7" cy="165.6" r="2.35"/><circle cx="354.2" cy="195.8" r="2.35"/><circle cx="360.1" cy="192.6" r="2.35"/><circle cx="360.9" cy="187.6" r="2.35"/><circle cx="356.7" cy="196.3" r="2.35"/><circle cx="359.6" cy="193.4" r="2.35"/><circle cx="350.3" cy="181.0" r="2.35"/><circle cx="355.1" cy="191.2" r="2.35"/><circle cx="366.0" cy="183.5" r="2.35"/><circle cx="355.6" cy="180.8" r="2.35"/><circle cx="356.4" cy="186.4" r="2.35"/><circle cx="359.4" cy="190.9" r="2.35"/><circle cx="364.2" cy="179.2" r="2.35"/><circle cx="362.6" cy="180.5" r="2.35"/><circle cx="365.4" cy="183.9" r="2.35"/><circle cx="361.2" cy="182.8" r="2.35"/><circle cx="365.5" cy="177.8" r="2.35"/><circle cx="364.8" cy="180.0" r="2.35"/><circle cx="362.9" cy="173.4" r="2.35"/><circle cx="370.1" cy="175.3" r="2.35"/><circle cx="362.9" cy="176.2" r="2.35"/><circle cx="359.7" cy="173.6" r="2.35"/><circle cx="360.8" cy="170.6" r="2.35"/><circle cx="359.6" cy="168.4" r="2.35"/><circle cx="371.3" cy="169.7" r="2.35"/><circle cx="363.0" cy="176.7" r="2.35"/><circle cx="366.0" cy="174.7" r="2.35"/><circle cx="367.0" cy="161.5" r="2.35"/><circle cx="377.4" cy="164.8" r="2.35"/><circle cx="373.4" cy="170.6" r="2.35"/><circle cx="365.4" cy="165.0" r="2.35"/><circle cx="369.2" cy="166.4" r="2.35"/><circle cx="372.3" cy="157.9" r="2.35"/><circle cx="373.4" cy="165.5" r="2.35"/><circle cx="372.7" cy="163.9" r="2.35"/><circle cx="372.5" cy="160.6" r="2.35"/><circle cx="377.0" cy="160.6" r="2.35"/><circle cx="381.6" cy="163.1" r="2.35"/><circle cx="380.6" cy="161.4" r="2.35"/><circle cx="378.5" cy="152.8" r="2.35"/><circle cx="383.0" cy="164.1" r="2.35"/><circle cx="380.4" cy="155.0" r="2.35"/><circle cx="380.1" cy="160.3" r="2.35"/><circle cx="382.2" cy="150.5" r="2.35"/><circle cx="381.1" cy="150.6" r="2.35"/><circle cx="381.8" cy="149.3" r="2.35"/><circle cx="380.0" cy="158.7" r="2.35"/><circle cx="388.9" cy="145.4" r="2.35"/><circle cx="381.5" cy="149.7" r="2.35"/><circle cx="384.9" cy="145.3" r="2.35"/><circle cx="391.2" cy="143.9" r="2.35"/><circle cx="391.4" cy="152.9" r="2.35"/><circle cx="388.0" cy="146.8" r="2.35"/><circle cx="390.8" cy="149.7" r="2.35"/><circle cx="382.8" cy="143.4" r="2.35"/><circle cx="394.7" cy="147.6" r="2.35"/><circle cx="391.8" cy="143.5" r="2.35"/><circle cx="391.6" cy="143.9" r="2.35"/><circle cx="407.0" cy="141.4" r="2.35"/><circle cx="402.8" cy="148.1" r="2.35"/><circle cx="398.3" cy="146.4" r="2.35"/><circle cx="396.8" cy="151.7" r="2.35"/><circle cx="401.5" cy="144.4" r="2.35"/><circle cx="399.8" cy="144.7" r="2.35"/><circle cx="396.5" cy="142.0" r="2.35"/><circle cx="399.6" cy="145.3" r="2.35"/><circle cx="405.6" cy="134.5" r="2.35"/><circle cx="403.2" cy="145.7" r="2.35"/><circle cx="399.7" cy="136.2" r="2.35"/><circle cx="410.1" cy="140.0" r="2.35"/><circle cx="405.1" cy="134.9" r="2.35"/><circle cx="401.0" cy="163.9" r="2.35"/><circle cx="403.3" cy="166.4" r="2.35"/><circle cx="395.6" cy="163.3" r="2.35"/><circle cx="397.0" cy="163.8" r="2.35"/><circle cx="398.0" cy="166.9" r="2.35"/><circle cx="391.1" cy="171.9" r="2.35"/><circle cx="393.5" cy="166.6" r="2.35"/><circle cx="402.6" cy="167.8" r="2.35"/><circle cx="395.6" cy="184.2" r="2.35"/><circle cx="390.7" cy="181.1" r="2.35"/><circle cx="395.6" cy="170.3" r="2.35"/><circle cx="401.2" cy="169.8" r="2.35"/><circle cx="388.2" cy="173.5" r="2.35"/><circle cx="398.6" cy="175.2" r="2.35"/><circle cx="392.0" cy="182.8" r="2.35"/><circle cx="394.9" cy="180.3" r="2.35"/><circle cx="399.7" cy="164.6" r="2.35"/><circle cx="393.4" cy="178.4" r="2.35"/><circle cx="392.6" cy="172.6" r="2.35"/><circle cx="396.3" cy="179.7" r="2.35"/><circle cx="454.8" cy="97.7" r="2.35"/><circle cx="462.9" cy="103.5" r="2.35"/><circle cx="424.0" cy="102.5" r="2.35"/><circle cx="413.5" cy="109.2" r="2.35"/><circle cx="412.5" cy="114.0" r="2.35"/><circle cx="451.9" cy="114.0" r="2.35"/><circle cx="444.2" cy="116.0" r="2.35"/><circle cx="443.3" cy="118.8" r="2.35"/><circle cx="447.1" cy="119.8" r="2.35"/><circle cx="441.3" cy="123.7" r="2.35"/><circle cx="437.5" cy="122.7" r="2.35"/><circle cx="437.5" cy="127.5" r="2.35"/><circle cx="446.2" cy="131.3" r="2.35"/><circle cx="451.0" cy="133.3" r="2.35"/><circle cx="449.0" cy="138.1" r="2.35"/><circle cx="466.3" cy="132.3" r="2.35"/><circle cx="473.7" cy="128.8" r="2.35"/><circle cx="422.1" cy="136.2" r="2.35"/><circle cx="411.5" cy="132.3" r="2.35"/><circle cx="384.6" cy="123.5" r="2.35"/><circle cx="383.8" cy="127.3" r="2.35"/><circle cx="380.8" cy="135.0" r="2.35"/><circle cx="386.2" cy="135.8" r="2.35"/><circle cx="411.5" cy="166.5" r="2.35"/><circle cx="397.7" cy="170.4" r="2.35"/><circle cx="393.1" cy="175.8" r="2.35"/><circle cx="390.0" cy="171.2" r="2.35"/><circle cx="403.9" cy="161.2" r="2.35"/><circle cx="401.7" cy="161.7" r="2.35"/><circle cx="404.1" cy="161.4" r="2.35"/><circle cx="404.8" cy="159.0" r="2.35"/><circle cx="403.4" cy="157.9" r="2.35"/><circle cx="402.7" cy="157.8" r="2.35"/><circle cx="401.7" cy="158.7" r="2.35"/><circle cx="403.2" cy="161.7" r="2.35"/>
</g>
<g stroke="#fab10f">
<circle cx="335.1" cy="211.4" r="2.35"/><circle cx="336.6" cy="209.9" r="2.35"/><circle cx="340.1" cy="206.8" r="2.35"/><circle cx="340.5" cy="208.9" r="2.35"/><circle cx="339.0" cy="205.6" r="2.35"/><circle cx="339.4" cy="203.9" r="2.35"/><circle cx="339.3" cy="205.2" r="2.35"/><circle cx="341.4" cy="207.2" r="2.35"/><circle cx="339.2" cy="208.1" r="2.35"/><circle cx="344.1" cy="205.8" r="2.35"/><circle cx="339.8" cy="206.6" r="2.35"/><circle cx="336.0" cy="203.5" r="2.35"/><circle cx="343.9" cy="209.6" r="2.35"/><circle cx="341.1" cy="208.1" r="2.35"/><circle cx="349.0" cy="208.6" r="2.35"/><circle cx="337.9" cy="206.3" r="2.35"/><circle cx="344.6" cy="205.8" r="2.35"/><circle cx="344.1" cy="201.4" r="2.35"/><circle cx="344.4" cy="206.3" r="2.35"/><circle cx="347.4" cy="201.5" r="2.35"/><circle cx="346.7" cy="204.0" r="2.35"/><circle cx="347.6" cy="201.4" r="2.35"/><circle cx="345.0" cy="199.3" r="2.35"/><circle cx="345.9" cy="199.5" r="2.35"/><circle cx="343.5" cy="197.0" r="2.35"/><circle cx="350.0" cy="197.4" r="2.35"/><circle cx="345.0" cy="199.7" r="2.35"/><circle cx="352.3" cy="202.6" r="2.35"/><circle cx="348.1" cy="196.5" r="2.35"/><circle cx="348.2" cy="196.5" r="2.35"/><circle cx="348.6" cy="199.6" r="2.35"/><circle cx="347.7" cy="196.1" r="2.35"/><circle cx="350.1" cy="197.7" r="2.35"/><circle cx="349.3" cy="195.4" r="2.35"/><circle cx="348.8" cy="195.2" r="2.35"/><circle cx="353.3" cy="196.1" r="2.35"/><circle cx="344.7" cy="197.9" r="2.35"/><circle cx="352.6" cy="193.8" r="2.35"/><circle cx="352.6" cy="188.1" r="2.35"/><circle cx="349.5" cy="198.2" r="2.35"/><circle cx="359.2" cy="200.2" r="2.35"/><circle cx="352.4" cy="194.5" r="2.35"/><circle cx="356.4" cy="190.8" r="2.35"/><circle cx="359.1" cy="191.7" r="2.35"/><circle cx="355.9" cy="190.1" r="2.35"/><circle cx="356.2" cy="192.5" r="2.35"/><circle cx="358.3" cy="189.2" r="2.35"/><circle cx="355.9" cy="196.2" r="2.35"/><circle cx="353.2" cy="192.0" r="2.35"/><circle cx="357.6" cy="189.5" r="2.35"/><circle cx="356.1" cy="193.8" r="2.35"/><circle cx="359.9" cy="191.2" r="2.35"/><circle cx="358.0" cy="186.5" r="2.35"/><circle cx="357.8" cy="193.4" r="2.35"/><circle cx="360.5" cy="185.0" r="2.35"/><circle cx="353.0" cy="186.3" r="2.35"/><circle cx="358.9" cy="186.1" r="2.35"/><circle cx="358.1" cy="188.0" r="2.35"/><circle cx="361.4" cy="187.2" r="2.35"/><circle cx="362.7" cy="182.7" r="2.35"/><circle cx="361.0" cy="186.9" r="2.35"/><circle cx="356.5" cy="188.6" r="2.35"/><circle cx="356.6" cy="181.4" r="2.35"/><circle cx="367.6" cy="187.9" r="2.35"/><circle cx="362.2" cy="187.6" r="2.35"/><circle cx="364.5" cy="181.0" r="2.35"/><circle cx="363.2" cy="186.9" r="2.35"/><circle cx="361.9" cy="183.1" r="2.35"/><circle cx="361.5" cy="184.4" r="2.35"/><circle cx="361.6" cy="180.7" r="2.35"/><circle cx="360.0" cy="179.3" r="2.35"/><circle cx="363.5" cy="182.3" r="2.35"/><circle cx="361.8" cy="177.9" r="2.35"/><circle cx="363.5" cy="180.9" r="2.35"/><circle cx="365.7" cy="178.3" r="2.35"/><circle cx="361.3" cy="180.2" r="2.35"/><circle cx="366.0" cy="178.3" r="2.35"/><circle cx="361.8" cy="175.5" r="2.35"/><circle cx="361.0" cy="179.7" r="2.35"/><circle cx="363.9" cy="179.6" r="2.35"/><circle cx="357.5" cy="178.4" r="2.35"/><circle cx="359.1" cy="177.2" r="2.35"/><circle cx="355.4" cy="174.9" r="2.35"/><circle cx="358.9" cy="177.8" r="2.35"/><circle cx="361.3" cy="177.4" r="2.35"/><circle cx="359.8" cy="178.5" r="2.35"/><circle cx="359.6" cy="177.8" r="2.35"/><circle cx="359.4" cy="170.0" r="2.35"/><circle cx="362.7" cy="170.9" r="2.35"/><circle cx="360.1" cy="168.0" r="2.35"/><circle cx="359.6" cy="171.2" r="2.35"/><circle cx="358.9" cy="171.4" r="2.35"/><circle cx="355.1" cy="172.1" r="2.35"/><circle cx="360.1" cy="173.0" r="2.35"/><circle cx="360.4" cy="167.2" r="2.35"/><circle cx="360.4" cy="169.0" r="2.35"/><circle cx="363.2" cy="166.6" r="2.35"/><circle cx="359.9" cy="168.3" r="2.35"/><circle cx="364.2" cy="162.3" r="2.35"/><circle cx="359.7" cy="164.5" r="2.35"/><circle cx="366.9" cy="168.8" r="2.35"/><circle cx="364.8" cy="166.4" r="2.35"/><circle cx="360.1" cy="167.5" r="2.35"/><circle cx="362.0" cy="162.1" r="2.35"/><circle cx="368.3" cy="160.0" r="2.35"/><circle cx="367.1" cy="163.6" r="2.35"/><circle cx="361.5" cy="163.0" r="2.35"/><circle cx="361.9" cy="162.5" r="2.35"/><circle cx="362.7" cy="158.6" r="2.35"/><circle cx="371.5" cy="160.1" r="2.35"/><circle cx="367.8" cy="161.0" r="2.35"/><circle cx="367.5" cy="157.6" r="2.35"/><circle cx="363.6" cy="152.3" r="2.35"/><circle cx="369.3" cy="161.4" r="2.35"/><circle cx="364.3" cy="162.1" r="2.35"/><circle cx="369.2" cy="167.1" r="2.35"/><circle cx="368.8" cy="161.8" r="2.35"/><circle cx="370.3" cy="161.1" r="2.35"/><circle cx="369.1" cy="157.9" r="2.35"/><circle cx="371.5" cy="161.8" r="2.35"/><circle cx="367.2" cy="155.5" r="2.35"/><circle cx="370.6" cy="162.7" r="2.35"/><circle cx="370.6" cy="153.5" r="2.35"/><circle cx="373.7" cy="159.5" r="2.35"/><circle cx="377.1" cy="157.8" r="2.35"/><circle cx="377.6" cy="155.2" r="2.35"/><circle cx="375.4" cy="157.4" r="2.35"/><circle cx="370.7" cy="156.5" r="2.35"/><circle cx="377.6" cy="160.1" r="2.35"/><circle cx="373.8" cy="160.2" r="2.35"/><circle cx="377.6" cy="159.8" r="2.35"/><circle cx="376.6" cy="158.5" r="2.35"/><circle cx="374.3" cy="157.7" r="2.35"/><circle cx="377.3" cy="156.1" r="2.35"/><circle cx="376.8" cy="158.5" r="2.35"/><circle cx="378.6" cy="160.9" r="2.35"/><circle cx="376.0" cy="157.4" r="2.35"/><circle cx="379.8" cy="157.6" r="2.35"/><circle cx="380.5" cy="157.5" r="2.35"/><circle cx="383.2" cy="158.2" r="2.35"/><circle cx="371.3" cy="170.4" r="2.35"/><circle cx="371.4" cy="160.0" r="2.35"/><circle cx="367.4" cy="174.0" r="2.35"/><circle cx="376.4" cy="172.1" r="2.35"/><circle cx="367.5" cy="169.0" r="2.35"/><circle cx="375.0" cy="174.5" r="2.35"/><circle cx="365.8" cy="167.0" r="2.35"/><circle cx="366.3" cy="164.3" r="2.35"/><circle cx="370.1" cy="168.3" r="2.35"/><circle cx="375.1" cy="175.2" r="2.35"/><circle cx="379.6" cy="169.6" r="2.35"/><circle cx="372.8" cy="175.5" r="2.35"/><circle cx="371.1" cy="165.0" r="2.35"/><circle cx="376.5" cy="164.3" r="2.35"/><circle cx="370.7" cy="167.2" r="2.35"/><circle cx="372.4" cy="166.0" r="2.35"/><circle cx="371.7" cy="167.6" r="2.35"/><circle cx="366.0" cy="168.9" r="2.35"/><circle cx="373.5" cy="166.7" r="2.35"/><circle cx="368.5" cy="161.5" r="2.35"/><circle cx="370.8" cy="165.2" r="2.35"/><circle cx="372.5" cy="163.8" r="2.35"/><circle cx="376.6" cy="168.2" r="2.35"/><circle cx="365.2" cy="166.8" r="2.35"/><circle cx="374.2" cy="176.4" r="2.35"/><circle cx="370.7" cy="170.2" r="2.35"/><circle cx="370.8" cy="165.0" r="2.35"/><circle cx="374.4" cy="170.0" r="2.35"/><circle cx="379.5" cy="162.1" r="2.35"/><circle cx="376.8" cy="158.1" r="2.35"/><circle cx="384.1" cy="159.0" r="2.35"/><circle cx="383.7" cy="160.8" r="2.35"/><circle cx="385.6" cy="155.1" r="2.35"/><circle cx="387.7" cy="155.7" r="2.35"/><circle cx="385.6" cy="162.5" r="2.35"/><circle cx="395.2" cy="162.4" r="2.35"/><circle cx="389.8" cy="155.3" r="2.35"/><circle cx="387.1" cy="162.8" r="2.35"/><circle cx="391.4" cy="153.1" r="2.35"/><circle cx="396.2" cy="159.1" r="2.35"/><circle cx="396.4" cy="158.4" r="2.35"/><circle cx="386.6" cy="154.8" r="2.35"/><circle cx="393.7" cy="156.3" r="2.35"/><circle cx="399.6" cy="154.1" r="2.35"/><circle cx="395.3" cy="155.4" r="2.35"/><circle cx="396.1" cy="151.8" r="2.35"/><circle cx="393.3" cy="146.4" r="2.35"/><circle cx="398.9" cy="153.2" r="2.35"/><circle cx="399.3" cy="149.9" r="2.35"/><circle cx="399.4" cy="149.6" r="2.35"/><circle cx="397.0" cy="153.1" r="2.35"/><circle cx="402.8" cy="153.2" r="2.35"/><circle cx="401.5" cy="149.6" r="2.35"/><circle cx="406.7" cy="154.1" r="2.35"/><circle cx="401.1" cy="146.2" r="2.35"/><circle cx="405.0" cy="150.0" r="2.35"/><circle cx="401.8" cy="155.5" r="2.35"/><circle cx="398.9" cy="145.2" r="2.35"/><circle cx="406.8" cy="150.3" r="2.35"/><circle cx="401.1" cy="145.3" r="2.35"/><circle cx="412.0" cy="150.4" r="2.35"/><circle cx="407.5" cy="145.6" r="2.35"/><circle cx="406.3" cy="146.1" r="2.35"/><circle cx="406.6" cy="137.9" r="2.35"/><circle cx="405.8" cy="143.8" r="2.35"/><circle cx="407.2" cy="146.5" r="2.35"/><circle cx="416.0" cy="145.5" r="2.35"/><circle cx="414.8" cy="145.4" r="2.35"/><circle cx="334.3" cy="210.8" r="2.35"/><circle cx="363.2" cy="191.5" r="2.35"/><circle cx="371.8" cy="147.3" r="2.35"/><circle cx="369.9" cy="149.2" r="2.35"/><circle cx="429.2" cy="52.1" r="2.35"/><circle cx="438.8" cy="55.4" r="2.35"/><circle cx="443.8" cy="53.5" r="2.35"/><circle cx="435.6" cy="59.6" r="2.35"/><circle cx="461.2" cy="54.0" r="2.35"/><circle cx="472.1" cy="57.9" r="2.35"/><circle cx="466.0" cy="62.7" r="2.35"/><circle cx="415.8" cy="64.4" r="2.35"/><circle cx="407.1" cy="69.4" r="2.35"/><circle cx="408.1" cy="74.6" r="2.35"/><circle cx="448.7" cy="68.5" r="2.35"/><circle cx="436.2" cy="76.0" r="2.35"/><circle cx="430.4" cy="80.0" r="2.35"/><circle cx="465.8" cy="84.2" r="2.35"/><circle cx="462.5" cy="87.7" r="2.35"/><circle cx="458.7" cy="91.0" r="2.35"/><circle cx="447.1" cy="90.0" r="2.35"/><circle cx="433.7" cy="91.5" r="2.35"/><circle cx="437.5" cy="95.8" r="2.35"/><circle cx="432.7" cy="97.7" r="2.35"/><circle cx="443.3" cy="99.6" r="2.35"/><circle cx="423.1" cy="92.9" r="2.35"/><circle cx="418.8" cy="94.8" r="2.35"/><circle cx="406.7" cy="94.2" r="2.35"/><circle cx="408.7" cy="97.7" r="2.35"/><circle cx="406.7" cy="102.5" r="2.35"/><circle cx="401.0" cy="106.3" r="2.35"/><circle cx="401.9" cy="112.1" r="2.35"/><circle cx="404.8" cy="110.2" r="2.35"/><circle cx="426.0" cy="104.4" r="2.35"/><circle cx="428.8" cy="105.4" r="2.35"/><circle cx="431.7" cy="106.3" r="2.35"/><circle cx="434.6" cy="104.4" r="2.35"/><circle cx="435.6" cy="101.5" r="2.35"/><circle cx="441.3" cy="108.3" r="2.35"/><circle cx="421.2" cy="112.1" r="2.35"/><circle cx="424.0" cy="114.0" r="2.35"/><circle cx="429.8" cy="115.0" r="2.35"/><circle cx="419.2" cy="117.9" r="2.35"/><circle cx="422.1" cy="119.8" r="2.35"/><circle cx="426.0" cy="124.6" r="2.35"/><circle cx="409.6" cy="120.8" r="2.35"/><circle cx="411.5" cy="124.6" r="2.35"/><circle cx="407.7" cy="126.5" r="2.35"/><circle cx="403.8" cy="129.4" r="2.35"/><circle cx="413.5" cy="136.2" r="2.35"/><circle cx="419.2" cy="136.2" r="2.35"/><circle cx="423.1" cy="140.0" r="2.35"/><circle cx="435.2" cy="141.0" r="2.35"/><circle cx="410.6" cy="131.3" r="2.35"/><circle cx="407.7" cy="122.7" r="2.35"/><circle cx="410.0" cy="120.4" r="2.35"/><circle cx="406.2" cy="125.8" r="2.35"/><circle cx="402.3" cy="127.3" r="2.35"/><circle cx="399.2" cy="127.3" r="2.35"/><circle cx="404.6" cy="129.6" r="2.35"/><circle cx="397.7" cy="131.9" r="2.35"/><circle cx="412.3" cy="128.1" r="2.35"/><circle cx="413.8" cy="131.9" r="2.35"/><circle cx="417.7" cy="135.8" r="2.35"/><circle cx="419.2" cy="138.1" r="2.35"/><circle cx="423.8" cy="140.4" r="2.35"/><circle cx="423.1" cy="147.3" r="2.35"/><circle cx="435.4" cy="140.8" r="2.35"/><circle cx="419.2" cy="152.7" r="2.35"/><circle cx="419.2" cy="156.5" r="2.35"/><circle cx="415.4" cy="159.6" r="2.35"/><circle cx="410.8" cy="154.2" r="2.35"/><circle cx="411.5" cy="158.1" r="2.35"/><circle cx="372.3" cy="148.1" r="2.35"/><circle cx="373.8" cy="149.6" r="2.35"/><circle cx="408.4" cy="140.7" r="2.35"/><circle cx="408.2" cy="140.8" r="2.35"/><circle cx="410.1" cy="143.0" r="2.35"/><circle cx="409.2" cy="143.7" r="2.35"/><circle cx="411.2" cy="140.9" r="2.35"/><circle cx="410.1" cy="142.4" r="2.35"/><circle cx="410.5" cy="139.2" r="2.35"/><circle cx="408.7" cy="145.7" r="2.35"/><circle cx="410.0" cy="139.6" r="2.35"/><circle cx="409.2" cy="145.5" r="2.35"/><circle cx="409.4" cy="144.2" r="2.35"/><circle cx="409.9" cy="148.8" r="2.35"/><circle cx="411.5" cy="142.1" r="2.35"/><circle cx="409.6" cy="139.2" r="2.35"/><circle cx="410.8" cy="137.6" r="2.35"/><circle cx="408.9" cy="147.2" r="2.35"/><circle cx="410.0" cy="143.4" r="2.35"/><circle cx="409.0" cy="138.2" r="2.35"/><circle cx="410.9" cy="139.1" r="2.35"/><circle cx="408.4" cy="143.1" r="2.35"/><circle cx="410.2" cy="137.8" r="2.35"/><circle cx="410.8" cy="143.8" r="2.35"/>
</g>
<g stroke="#fa5416">
<circle cx="396.5" cy="144.4" r="2.35"/><circle cx="389.1" cy="151.6" r="2.35"/><circle cx="397.2" cy="142.9" r="2.35"/><circle cx="393.6" cy="142.7" r="2.35"/><circle cx="389.1" cy="142.7" r="2.35"/><circle cx="386.2" cy="146.1" r="2.35"/><circle cx="388.8" cy="143.2" r="2.35"/><circle cx="388.9" cy="146.5" r="2.35"/><circle cx="395.0" cy="147.0" r="2.35"/><circle cx="397.3" cy="146.9" r="2.35"/><circle cx="395.9" cy="152.5" r="2.35"/><circle cx="398.0" cy="142.8" r="2.35"/><circle cx="390.4" cy="150.5" r="2.35"/><circle cx="388.0" cy="145.7" r="2.35"/><circle cx="390.6" cy="149.7" r="2.35"/><circle cx="401.2" cy="146.4" r="2.35"/><circle cx="394.2" cy="144.1" r="2.35"/><circle cx="395.9" cy="140.1" r="2.35"/><circle cx="394.2" cy="140.8" r="2.35"/><circle cx="396.0" cy="140.0" r="2.35"/><circle cx="384.3" cy="147.4" r="2.35"/><circle cx="399.5" cy="150.5" r="2.35"/><circle cx="393.4" cy="140.2" r="2.35"/><circle cx="393.5" cy="141.7" r="2.35"/><circle cx="393.5" cy="144.2" r="2.35"/><circle cx="392.9" cy="141.9" r="2.35"/><circle cx="396.7" cy="145.1" r="2.35"/><circle cx="392.7" cy="140.2" r="2.35"/><circle cx="392.7" cy="147.2" r="2.35"/><circle cx="401.7" cy="147.2" r="2.35"/><circle cx="386.2" cy="143.4" r="2.35"/><circle cx="389.9" cy="149.3" r="2.35"/><circle cx="384.1" cy="146.2" r="2.35"/><circle cx="394.6" cy="149.1" r="2.35"/><circle cx="395.0" cy="148.0" r="2.35"/><circle cx="393.3" cy="153.1" r="2.35"/><circle cx="399.0" cy="149.1" r="2.35"/><circle cx="393.3" cy="147.5" r="2.35"/><circle cx="397.7" cy="150.8" r="2.35"/><circle cx="399.1" cy="145.0" r="2.35"/><circle cx="389.9" cy="144.1" r="2.35"/><circle cx="388.6" cy="147.6" r="2.35"/><circle cx="393.4" cy="143.9" r="2.35"/><circle cx="396.2" cy="145.7" r="2.35"/><circle cx="388.1" cy="151.9" r="2.35"/><circle cx="387.0" cy="141.2" r="2.35"/><circle cx="388.4" cy="146.0" r="2.35"/><circle cx="398.2" cy="143.9" r="2.35"/><circle cx="363.5" cy="164.7" r="2.35"/><circle cx="363.9" cy="163.7" r="2.35"/><circle cx="364.4" cy="163.9" r="2.35"/><circle cx="365.4" cy="161.7" r="2.35"/><circle cx="365.4" cy="161.1" r="2.35"/><circle cx="366.1" cy="158.0" r="2.35"/><circle cx="367.5" cy="158.0" r="2.35"/><circle cx="369.6" cy="159.8" r="2.35"/><circle cx="368.9" cy="159.4" r="2.35"/><circle cx="367.0" cy="160.0" r="2.35"/><circle cx="370.0" cy="158.8" r="2.35"/><circle cx="374.3" cy="156.0" r="2.35"/><circle cx="372.0" cy="158.3" r="2.35"/><circle cx="373.8" cy="156.3" r="2.35"/><circle cx="373.2" cy="159.9" r="2.35"/><circle cx="374.5" cy="159.1" r="2.35"/><circle cx="374.6" cy="157.7" r="2.35"/><circle cx="375.0" cy="159.2" r="2.35"/><circle cx="379.0" cy="159.5" r="2.35"/><circle cx="378.2" cy="160.1" r="2.35"/><circle cx="379.8" cy="160.1" r="2.35"/><circle cx="380.6" cy="163.0" r="2.35"/><circle cx="383.2" cy="160.8" r="2.35"/><circle cx="380.2" cy="164.0" r="2.35"/><circle cx="383.0" cy="164.1" r="2.35"/><circle cx="382.9" cy="163.4" r="2.35"/><circle cx="383.6" cy="165.7" r="2.35"/><circle cx="384.2" cy="164.2" r="2.35"/><circle cx="369.6" cy="163.7" r="2.35"/><circle cx="366.8" cy="162.1" r="2.35"/><circle cx="366.3" cy="166.1" r="2.35"/><circle cx="366.6" cy="161.7" r="2.35"/><circle cx="366.4" cy="162.4" r="2.35"/><circle cx="365.5" cy="164.1" r="2.35"/><circle cx="367.6" cy="164.3" r="2.35"/><circle cx="368.7" cy="164.1" r="2.35"/><circle cx="360.8" cy="176.8" r="2.35"/><circle cx="362.3" cy="174.3" r="2.35"/><circle cx="360.4" cy="172.6" r="2.35"/><circle cx="361.4" cy="172.2" r="2.35"/><circle cx="361.1" cy="175.2" r="2.35"/><circle cx="362.1" cy="173.9" r="2.35"/><circle cx="361.9" cy="173.3" r="2.35"/><circle cx="360.4" cy="176.6" r="2.35"/><circle cx="360.5" cy="177.2" r="2.35"/><circle cx="361.2" cy="175.7" r="2.35"/><circle cx="361.1" cy="171.1" r="2.35"/><circle cx="361.5" cy="172.9" r="2.35"/><circle cx="361.2" cy="175.5" r="2.35"/><circle cx="360.8" cy="172.8" r="2.35"/><circle cx="362.2" cy="175.0" r="2.35"/><circle cx="361.0" cy="174.6" r="2.35"/><circle cx="381.4" cy="174.4" r="2.35"/><circle cx="383.1" cy="173.6" r="2.35"/><circle cx="381.6" cy="179.8" r="2.35"/><circle cx="380.8" cy="173.0" r="2.35"/><circle cx="382.4" cy="173.6" r="2.35"/><circle cx="381.8" cy="172.9" r="2.35"/><circle cx="383.2" cy="174.0" r="2.35"/><circle cx="380.1" cy="177.3" r="2.35"/><circle cx="381.0" cy="176.3" r="2.35"/><circle cx="381.5" cy="179.3" r="2.35"/><circle cx="381.6" cy="174.8" r="2.35"/><circle cx="379.7" cy="175.7" r="2.35"/><circle cx="380.7" cy="176.4" r="2.35"/><circle cx="382.0" cy="175.5" r="2.35"/><circle cx="380.0" cy="175.7" r="2.35"/><circle cx="381.5" cy="176.9" r="2.35"/><circle cx="380.8" cy="185.8" r="2.35"/><circle cx="373.8" cy="189.6" r="2.35"/><circle cx="373.1" cy="194.2" r="2.35"/><circle cx="370.3" cy="203.5" r="2.35"/><circle cx="379.2" cy="187.3" r="2.35"/><circle cx="383.1" cy="184.2" r="2.35"/>
</g>
</g>
<rect x="317.1" y="34.7" width="194.0" height="198.5" fill="none" stroke="#151515" stroke-width="1.25"/>
<path d="M368.5 233.2v-2.3M368.5 34.7v2.3M317.1 180.7h2.3M511.1 180.7h-2.3M425.5 233.2v-2.3M425.5 34.7v2.3M317.1 122.3h2.3M511.1 122.3h-2.3M482.6 233.2v-2.3M482.6 34.7v2.3M317.1 63.9h2.3M511.1 63.9h-2.3" stroke="#151515" stroke-width="1.15" fill="none"/>
<text x="368.5" y="260.2" font-size="19.3" text-anchor="middle">10</text>
<text x="309.1"  y="187.9" font-size="19.3" text-anchor="end">10</text>
<text x="425.5" y="260.2" font-size="19.3" text-anchor="middle">20</text>
<text x="309.1"  y="129.5" font-size="19.3" text-anchor="end">20</text>
<text x="482.6" y="260.2" font-size="19.3" text-anchor="middle">30</text>
<text x="309.1"  y="71.1" font-size="19.3" text-anchor="end">30</text>
<text x="334.1" y="64.0" font-size="18.5" letter-spacing="1">(b)</text>
<line x1="60.6" y1="485.3" x2="254.8" y2="286.6" stroke="#111" stroke-width="1.75"/>
<g fill="none" stroke-width="1.35">
<g stroke="#5aae2a">
<circle cx="90.8" cy="444.6" r="2.35"/><circle cx="111.9" cy="444.6" r="2.35"/><circle cx="115.8" cy="443.7" r="2.35"/><circle cx="113.8" cy="440.8" r="2.35"/><circle cx="91.7" cy="448.5" r="2.35"/>
</g>
<g stroke="#0a76cc">
<circle cx="101.3" cy="418.2" r="2.35"/><circle cx="97.5" cy="419.3" r="2.35"/><circle cx="98.3" cy="417.3" r="2.35"/><circle cx="99.2" cy="415.3" r="2.35"/><circle cx="96.1" cy="425.3" r="2.35"/><circle cx="92.7" cy="419.9" r="2.35"/><circle cx="88.8" cy="418.1" r="2.35"/><circle cx="91.0" cy="420.7" r="2.35"/><circle cx="91.9" cy="425.6" r="2.35"/><circle cx="90.0" cy="421.0" r="2.35"/><circle cx="92.3" cy="423.1" r="2.35"/><circle cx="93.5" cy="417.8" r="2.35"/><circle cx="96.3" cy="421.6" r="2.35"/><circle cx="88.0" cy="418.6" r="2.35"/><circle cx="88.1" cy="418.8" r="2.35"/><circle cx="89.1" cy="422.4" r="2.35"/><circle cx="88.8" cy="422.4" r="2.35"/><circle cx="87.6" cy="430.8" r="2.35"/><circle cx="89.8" cy="425.9" r="2.35"/><circle cx="83.5" cy="429.8" r="2.35"/><circle cx="81.2" cy="422.8" r="2.35"/><circle cx="88.6" cy="425.7" r="2.35"/><circle cx="88.4" cy="429.4" r="2.35"/><circle cx="90.2" cy="433.3" r="2.35"/><circle cx="85.6" cy="427.7" r="2.35"/><circle cx="85.2" cy="433.7" r="2.35"/><circle cx="83.7" cy="423.2" r="2.35"/><circle cx="81.9" cy="430.5" r="2.35"/><circle cx="82.4" cy="431.2" r="2.35"/><circle cx="85.1" cy="429.5" r="2.35"/><circle cx="82.9" cy="428.4" r="2.35"/><circle cx="75.7" cy="431.6" r="2.35"/><circle cx="79.1" cy="432.7" r="2.35"/><circle cx="79.1" cy="437.4" r="2.35"/><circle cx="82.3" cy="436.8" r="2.35"/><circle cx="81.1" cy="435.5" r="2.35"/><circle cx="77.8" cy="434.4" r="2.35"/><circle cx="79.1" cy="436.0" r="2.35"/><circle cx="79.2" cy="441.6" r="2.35"/><circle cx="81.3" cy="444.0" r="2.35"/><circle cx="77.3" cy="435.5" r="2.35"/><circle cx="76.6" cy="447.3" r="2.35"/><circle cx="81.2" cy="441.7" r="2.35"/><circle cx="82.7" cy="442.6" r="2.35"/><circle cx="83.7" cy="443.4" r="2.35"/><circle cx="78.5" cy="447.0" r="2.35"/><circle cx="76.8" cy="445.5" r="2.35"/><circle cx="85.1" cy="447.8" r="2.35"/><circle cx="77.4" cy="446.8" r="2.35"/><circle cx="80.5" cy="446.2" r="2.35"/><circle cx="81.9" cy="452.3" r="2.35"/><circle cx="81.2" cy="452.1" r="2.35"/><circle cx="82.1" cy="450.9" r="2.35"/><circle cx="79.6" cy="453.8" r="2.35"/><circle cx="85.5" cy="450.8" r="2.35"/><circle cx="80.2" cy="453.9" r="2.35"/><circle cx="83.2" cy="456.1" r="2.35"/><circle cx="84.8" cy="453.5" r="2.35"/><circle cx="80.4" cy="456.1" r="2.35"/><circle cx="84.8" cy="451.7" r="2.35"/><circle cx="81.1" cy="450.9" r="2.35"/><circle cx="87.1" cy="455.2" r="2.35"/><circle cx="88.4" cy="429.8" r="2.35"/><circle cx="91.9" cy="432.4" r="2.35"/><circle cx="92.9" cy="433.8" r="2.35"/><circle cx="93.9" cy="437.1" r="2.35"/><circle cx="92.9" cy="439.5" r="2.35"/><circle cx="93.2" cy="438.2" r="2.35"/><circle cx="93.5" cy="439.1" r="2.35"/><circle cx="92.6" cy="441.2" r="2.35"/><circle cx="92.1" cy="444.4" r="2.35"/><circle cx="89.3" cy="446.3" r="2.35"/><circle cx="92.3" cy="447.2" r="2.35"/><circle cx="92.5" cy="449.6" r="2.35"/><circle cx="93.7" cy="420.6" r="2.35"/><circle cx="98.5" cy="419.6" r="2.35"/><circle cx="96.5" cy="423.5" r="2.35"/><circle cx="117.7" cy="404.2" r="2.35"/><circle cx="123.5" cy="402.3" r="2.35"/><circle cx="125.4" cy="398.5" r="2.35"/><circle cx="127.3" cy="396.5" r="2.35"/><circle cx="113.8" cy="408.1" r="2.35"/><circle cx="108.1" cy="413.8" r="2.35"/><circle cx="105.2" cy="416.7" r="2.35"/><circle cx="111.0" cy="411.0" r="2.35"/><circle cx="120.6" cy="401.3" r="2.35"/><circle cx="144.6" cy="410.0" r="2.35"/><circle cx="148.5" cy="413.8" r="2.35"/><circle cx="151.3" cy="416.7" r="2.35"/><circle cx="154.2" cy="420.6" r="2.35"/><circle cx="155.2" cy="424.4" r="2.35"/><circle cx="148.5" cy="424.4" r="2.35"/><circle cx="142.7" cy="423.5" r="2.35"/><circle cx="145.6" cy="418.7" r="2.35"/><circle cx="140.8" cy="417.7" r="2.35"/><circle cx="146.5" cy="426.3" r="2.35"/><circle cx="137.9" cy="433.1" r="2.35"/><circle cx="136.0" cy="429.2" r="2.35"/><circle cx="123.5" cy="451.3" r="2.35"/><circle cx="128.3" cy="451.3" r="2.35"/><circle cx="126.3" cy="448.5" r="2.35"/><circle cx="117.7" cy="452.3" r="2.35"/><circle cx="120.6" cy="449.4" r="2.35"/><circle cx="95.6" cy="469.6" r="2.35"/><circle cx="97.5" cy="473.5" r="2.35"/><circle cx="90.8" cy="477.3" r="2.35"/><circle cx="93.7" cy="466.7" r="2.35"/><circle cx="97.3" cy="444.0" r="2.35"/><circle cx="102.0" cy="449.7" r="2.35"/><circle cx="94.0" cy="442.9" r="2.35"/><circle cx="95.6" cy="447.9" r="2.35"/><circle cx="98.4" cy="438.7" r="2.35"/><circle cx="106.9" cy="444.2" r="2.35"/><circle cx="102.5" cy="442.3" r="2.35"/><circle cx="101.4" cy="440.4" r="2.35"/><circle cx="106.0" cy="440.9" r="2.35"/><circle cx="101.3" cy="438.5" r="2.35"/><circle cx="110.7" cy="434.9" r="2.35"/><circle cx="98.9" cy="436.4" r="2.35"/><circle cx="100.1" cy="445.0" r="2.35"/><circle cx="107.4" cy="436.0" r="2.35"/><circle cx="106.9" cy="440.3" r="2.35"/><circle cx="102.0" cy="431.4" r="2.35"/><circle cx="100.1" cy="435.4" r="2.35"/><circle cx="106.9" cy="436.5" r="2.35"/><circle cx="106.9" cy="424.7" r="2.35"/><circle cx="105.9" cy="430.9" r="2.35"/><circle cx="106.2" cy="427.8" r="2.35"/><circle cx="107.3" cy="423.1" r="2.35"/><circle cx="108.6" cy="431.2" r="2.35"/><circle cx="107.4" cy="425.2" r="2.35"/><circle cx="115.3" cy="420.1" r="2.35"/><circle cx="107.1" cy="427.8" r="2.35"/><circle cx="120.4" cy="420.1" r="2.35"/><circle cx="109.7" cy="423.5" r="2.35"/><circle cx="114.9" cy="416.0" r="2.35"/><circle cx="114.3" cy="409.0" r="2.35"/><circle cx="113.3" cy="412.6" r="2.35"/><circle cx="112.1" cy="418.6" r="2.35"/><circle cx="119.0" cy="422.0" r="2.35"/><circle cx="108.6" cy="412.2" r="2.35"/><circle cx="116.6" cy="419.2" r="2.35"/><circle cx="124.9" cy="413.8" r="2.35"/><circle cx="122.1" cy="409.7" r="2.35"/><circle cx="120.7" cy="410.2" r="2.35"/><circle cx="113.9" cy="418.5" r="2.35"/><circle cx="127.5" cy="418.5" r="2.35"/><circle cx="130.4" cy="411.7" r="2.35"/><circle cx="129.8" cy="402.5" r="2.35"/><circle cx="123.6" cy="411.6" r="2.35"/><circle cx="127.0" cy="401.3" r="2.35"/><circle cx="129.3" cy="401.9" r="2.35"/><circle cx="130.3" cy="412.3" r="2.35"/><circle cx="126.9" cy="403.7" r="2.35"/><circle cx="134.4" cy="404.6" r="2.35"/><circle cx="133.9" cy="400.8" r="2.35"/><circle cx="132.9" cy="394.1" r="2.35"/><circle cx="134.5" cy="407.7" r="2.35"/><circle cx="131.8" cy="401.3" r="2.35"/><circle cx="139.9" cy="406.2" r="2.35"/><circle cx="142.6" cy="397.3" r="2.35"/><circle cx="137.5" cy="406.9" r="2.35"/><circle cx="138.3" cy="400.5" r="2.35"/><circle cx="137.8" cy="396.2" r="2.35"/><circle cx="130.5" cy="396.0" r="2.35"/><circle cx="134.5" cy="393.5" r="2.35"/><circle cx="140.2" cy="402.1" r="2.35"/><circle cx="187.1" cy="362.7" r="2.35"/><circle cx="188.1" cy="366.5" r="2.35"/><circle cx="193.8" cy="367.5" r="2.35"/><circle cx="195.8" cy="370.8" r="2.35"/><circle cx="198.7" cy="375.2" r="2.35"/><circle cx="206.7" cy="374.2" r="2.35"/><circle cx="210.2" cy="383.8" r="2.35"/><circle cx="190.4" cy="376.7" r="2.35"/><circle cx="181.3" cy="377.7" r="2.35"/><circle cx="186.2" cy="370.8" r="2.35"/><circle cx="192.3" cy="392.1" r="2.35"/><circle cx="217.3" cy="402.1" r="2.35"/><circle cx="155.4" cy="371.3" r="2.35"/><circle cx="154.4" cy="378.1" r="2.35"/><circle cx="157.3" cy="381.0" r="2.35"/><circle cx="166.0" cy="373.3" r="2.35"/><circle cx="162.1" cy="400.2" r="2.35"/><circle cx="162.1" cy="414.6" r="2.35"/><circle cx="153.5" cy="422.3" r="2.35"/><circle cx="154.4" cy="425.2" r="2.35"/><circle cx="147.7" cy="424.2" r="2.35"/><circle cx="143.8" cy="423.3" r="2.35"/><circle cx="148.7" cy="412.7" r="2.35"/><circle cx="146.7" cy="418.5" r="2.35"/><circle cx="150.6" cy="416.5" r="2.35"/><circle cx="144.8" cy="414.6" r="2.35"/><circle cx="141.9" cy="420.4" r="2.35"/><circle cx="154.6" cy="371.2" r="2.35"/><circle cx="153.8" cy="378.1" r="2.35"/><circle cx="157.7" cy="380.4" r="2.35"/><circle cx="165.4" cy="372.7" r="2.35"/><circle cx="166.2" cy="375.8" r="2.35"/><circle cx="161.5" cy="400.4" r="2.35"/><circle cx="162.3" cy="415.5" r="2.35"/>
</g>
<g stroke="#fab10f">
<circle cx="81.0" cy="467.2" r="2.35"/><circle cx="91.0" cy="472.6" r="2.35"/><circle cx="93.2" cy="468.3" r="2.35"/><circle cx="84.2" cy="468.0" r="2.35"/><circle cx="88.5" cy="463.4" r="2.35"/><circle cx="85.9" cy="472.2" r="2.35"/><circle cx="82.2" cy="467.4" r="2.35"/><circle cx="83.8" cy="465.5" r="2.35"/><circle cx="92.6" cy="473.3" r="2.35"/><circle cx="84.1" cy="469.8" r="2.35"/><circle cx="93.0" cy="475.0" r="2.35"/><circle cx="83.2" cy="472.8" r="2.35"/><circle cx="91.1" cy="467.7" r="2.35"/><circle cx="94.0" cy="466.1" r="2.35"/><circle cx="87.5" cy="467.4" r="2.35"/><circle cx="86.9" cy="474.3" r="2.35"/><circle cx="89.0" cy="471.5" r="2.35"/><circle cx="83.4" cy="471.7" r="2.35"/><circle cx="85.3" cy="469.2" r="2.35"/><circle cx="86.8" cy="474.5" r="2.35"/><circle cx="94.6" cy="472.5" r="2.35"/><circle cx="82.6" cy="468.0" r="2.35"/><circle cx="91.2" cy="466.1" r="2.35"/><circle cx="83.5" cy="468.1" r="2.35"/><circle cx="83.5" cy="473.0" r="2.35"/><circle cx="80.6" cy="472.7" r="2.35"/><circle cx="99.2" cy="463.5" r="2.35"/><circle cx="91.8" cy="460.2" r="2.35"/><circle cx="95.8" cy="461.0" r="2.35"/><circle cx="91.0" cy="465.8" r="2.35"/><circle cx="91.6" cy="456.5" r="2.35"/><circle cx="96.9" cy="459.4" r="2.35"/><circle cx="99.9" cy="458.9" r="2.35"/><circle cx="97.1" cy="459.6" r="2.35"/><circle cx="94.6" cy="453.9" r="2.35"/><circle cx="95.5" cy="459.2" r="2.35"/><circle cx="96.1" cy="459.3" r="2.35"/><circle cx="95.7" cy="457.5" r="2.35"/><circle cx="97.4" cy="457.2" r="2.35"/><circle cx="97.5" cy="455.0" r="2.35"/><circle cx="96.5" cy="457.1" r="2.35"/><circle cx="97.9" cy="454.7" r="2.35"/><circle cx="99.8" cy="450.6" r="2.35"/><circle cx="96.3" cy="452.2" r="2.35"/><circle cx="101.8" cy="449.1" r="2.35"/><circle cx="96.3" cy="448.7" r="2.35"/><circle cx="98.1" cy="447.9" r="2.35"/><circle cx="97.2" cy="451.4" r="2.35"/><circle cx="96.7" cy="449.5" r="2.35"/><circle cx="96.7" cy="448.5" r="2.35"/><circle cx="101.2" cy="443.4" r="2.35"/><circle cx="100.3" cy="448.5" r="2.35"/><circle cx="100.2" cy="448.0" r="2.35"/><circle cx="101.6" cy="443.5" r="2.35"/><circle cx="100.5" cy="447.9" r="2.35"/><circle cx="104.3" cy="442.3" r="2.35"/><circle cx="99.7" cy="441.7" r="2.35"/><circle cx="101.4" cy="441.9" r="2.35"/><circle cx="99.2" cy="446.0" r="2.35"/><circle cx="107.6" cy="438.3" r="2.35"/><circle cx="106.3" cy="440.7" r="2.35"/><circle cx="104.0" cy="443.3" r="2.35"/><circle cx="105.6" cy="441.4" r="2.35"/><circle cx="100.5" cy="441.1" r="2.35"/><circle cx="104.8" cy="438.5" r="2.35"/><circle cx="104.0" cy="440.2" r="2.35"/><circle cx="103.5" cy="439.6" r="2.35"/><circle cx="104.8" cy="441.1" r="2.35"/><circle cx="102.7" cy="437.6" r="2.35"/><circle cx="98.1" cy="435.7" r="2.35"/><circle cx="99.9" cy="439.0" r="2.35"/><circle cx="101.1" cy="435.0" r="2.35"/><circle cx="105.4" cy="438.7" r="2.35"/><circle cx="107.3" cy="433.5" r="2.35"/><circle cx="104.9" cy="437.8" r="2.35"/><circle cx="102.4" cy="433.9" r="2.35"/><circle cx="101.6" cy="432.3" r="2.35"/><circle cx="106.6" cy="433.6" r="2.35"/><circle cx="104.0" cy="431.4" r="2.35"/><circle cx="109.0" cy="434.1" r="2.35"/><circle cx="102.3" cy="437.2" r="2.35"/><circle cx="104.6" cy="430.8" r="2.35"/><circle cx="104.8" cy="429.2" r="2.35"/><circle cx="107.9" cy="426.5" r="2.35"/><circle cx="106.7" cy="428.9" r="2.35"/><circle cx="111.3" cy="430.2" r="2.35"/><circle cx="108.3" cy="430.0" r="2.35"/><circle cx="109.0" cy="428.5" r="2.35"/><circle cx="101.6" cy="428.7" r="2.35"/><circle cx="107.3" cy="428.9" r="2.35"/><circle cx="109.2" cy="425.3" r="2.35"/><circle cx="106.5" cy="423.6" r="2.35"/><circle cx="109.7" cy="425.4" r="2.35"/><circle cx="107.1" cy="424.2" r="2.35"/><circle cx="110.5" cy="422.9" r="2.35"/><circle cx="109.6" cy="422.6" r="2.35"/><circle cx="103.7" cy="423.8" r="2.35"/><circle cx="110.7" cy="425.2" r="2.35"/><circle cx="114.1" cy="420.8" r="2.35"/><circle cx="112.7" cy="422.8" r="2.35"/><circle cx="111.7" cy="423.7" r="2.35"/><circle cx="114.0" cy="417.9" r="2.35"/><circle cx="115.9" cy="420.2" r="2.35"/><circle cx="110.9" cy="418.5" r="2.35"/><circle cx="112.4" cy="417.0" r="2.35"/><circle cx="116.1" cy="420.4" r="2.35"/><circle cx="111.5" cy="421.0" r="2.35"/><circle cx="114.7" cy="418.6" r="2.35"/><circle cx="116.9" cy="417.7" r="2.35"/><circle cx="114.2" cy="418.8" r="2.35"/><circle cx="110.6" cy="414.1" r="2.35"/><circle cx="116.9" cy="419.3" r="2.35"/><circle cx="111.8" cy="416.2" r="2.35"/><circle cx="114.7" cy="415.0" r="2.35"/><circle cx="118.3" cy="419.0" r="2.35"/><circle cx="121.6" cy="417.2" r="2.35"/><circle cx="119.1" cy="414.7" r="2.35"/><circle cx="113.2" cy="414.9" r="2.35"/><circle cx="115.3" cy="410.7" r="2.35"/><circle cx="119.0" cy="409.0" r="2.35"/><circle cx="123.5" cy="414.1" r="2.35"/><circle cx="120.3" cy="413.3" r="2.35"/><circle cx="120.5" cy="411.9" r="2.35"/><circle cx="122.1" cy="409.7" r="2.35"/><circle cx="121.5" cy="411.5" r="2.35"/><circle cx="123.2" cy="407.9" r="2.35"/><circle cx="122.4" cy="410.0" r="2.35"/><circle cx="123.8" cy="411.4" r="2.35"/><circle cx="123.2" cy="410.8" r="2.35"/><circle cx="124.3" cy="412.7" r="2.35"/><circle cx="124.5" cy="410.3" r="2.35"/><circle cx="121.8" cy="408.1" r="2.35"/><circle cx="126.6" cy="410.9" r="2.35"/><circle cx="122.7" cy="407.8" r="2.35"/><circle cx="124.9" cy="407.7" r="2.35"/><circle cx="124.9" cy="406.2" r="2.35"/><circle cx="117.6" cy="435.1" r="2.35"/><circle cx="111.0" cy="428.1" r="2.35"/><circle cx="107.5" cy="432.2" r="2.35"/><circle cx="107.4" cy="432.1" r="2.35"/><circle cx="114.4" cy="420.4" r="2.35"/><circle cx="111.5" cy="438.6" r="2.35"/><circle cx="107.9" cy="441.6" r="2.35"/><circle cx="110.8" cy="421.8" r="2.35"/><circle cx="113.5" cy="439.3" r="2.35"/><circle cx="109.7" cy="440.5" r="2.35"/><circle cx="109.2" cy="429.4" r="2.35"/><circle cx="106.8" cy="439.2" r="2.35"/><circle cx="106.6" cy="442.0" r="2.35"/><circle cx="110.0" cy="421.6" r="2.35"/><circle cx="121.8" cy="419.5" r="2.35"/><circle cx="119.8" cy="424.1" r="2.35"/><circle cx="108.6" cy="428.9" r="2.35"/><circle cx="109.8" cy="423.3" r="2.35"/><circle cx="112.6" cy="422.0" r="2.35"/><circle cx="122.6" cy="422.6" r="2.35"/><circle cx="124.8" cy="424.6" r="2.35"/><circle cx="117.6" cy="424.8" r="2.35"/><circle cx="124.3" cy="418.7" r="2.35"/><circle cx="122.1" cy="423.9" r="2.35"/><circle cx="108.7" cy="433.8" r="2.35"/><circle cx="115.9" cy="422.6" r="2.35"/><circle cx="115.7" cy="422.2" r="2.35"/><circle cx="117.9" cy="430.2" r="2.35"/><circle cx="123.3" cy="421.5" r="2.35"/><circle cx="106.6" cy="427.8" r="2.35"/><circle cx="118.5" cy="419.1" r="2.35"/><circle cx="115.5" cy="432.9" r="2.35"/><circle cx="106.7" cy="442.4" r="2.35"/><circle cx="107.2" cy="421.7" r="2.35"/><circle cx="114.7" cy="436.8" r="2.35"/><circle cx="107.0" cy="438.0" r="2.35"/><circle cx="119.3" cy="416.8" r="2.35"/><circle cx="125.2" cy="417.7" r="2.35"/><circle cx="121.4" cy="419.1" r="2.35"/><circle cx="108.5" cy="437.8" r="2.35"/><circle cx="118.7" cy="416.6" r="2.35"/><circle cx="111.5" cy="436.2" r="2.35"/><circle cx="118.2" cy="434.2" r="2.35"/><circle cx="107.4" cy="438.6" r="2.35"/><circle cx="104.7" cy="432.8" r="2.35"/><circle cx="116.1" cy="429.0" r="2.35"/><circle cx="106.5" cy="421.9" r="2.35"/><circle cx="107.8" cy="428.1" r="2.35"/><circle cx="113.4" cy="428.6" r="2.35"/><circle cx="111.4" cy="434.2" r="2.35"/><circle cx="111.2" cy="424.6" r="2.35"/><circle cx="107.4" cy="436.2" r="2.35"/><circle cx="103.3" cy="459.0" r="2.35"/><circle cx="105.2" cy="461.9" r="2.35"/><circle cx="78.3" cy="471.5" r="2.35"/><circle cx="84.0" cy="476.3" r="2.35"/><circle cx="88.8" cy="477.3" r="2.35"/><circle cx="81.2" cy="474.4" r="2.35"/><circle cx="121.8" cy="409.2" r="2.35"/><circle cx="124.7" cy="405.9" r="2.35"/><circle cx="125.9" cy="405.5" r="2.35"/><circle cx="129.8" cy="404.9" r="2.35"/><circle cx="129.4" cy="405.1" r="2.35"/><circle cx="130.7" cy="403.0" r="2.35"/><circle cx="133.8" cy="405.8" r="2.35"/><circle cx="130.2" cy="401.1" r="2.35"/><circle cx="132.6" cy="403.8" r="2.35"/><circle cx="132.3" cy="406.3" r="2.35"/><circle cx="136.7" cy="402.8" r="2.35"/><circle cx="139.6" cy="400.3" r="2.35"/><circle cx="139.5" cy="402.5" r="2.35"/><circle cx="142.7" cy="398.7" r="2.35"/><circle cx="143.9" cy="402.1" r="2.35"/><circle cx="142.4" cy="402.8" r="2.35"/><circle cx="142.3" cy="399.5" r="2.35"/><circle cx="145.8" cy="398.7" r="2.35"/><circle cx="147.4" cy="402.3" r="2.35"/><circle cx="146.5" cy="399.1" r="2.35"/><circle cx="145.5" cy="396.1" r="2.35"/><circle cx="151.3" cy="395.2" r="2.35"/><circle cx="149.1" cy="397.7" r="2.35"/><circle cx="147.8" cy="394.9" r="2.35"/><circle cx="149.2" cy="400.8" r="2.35"/><circle cx="152.7" cy="398.5" r="2.35"/><circle cx="157.5" cy="397.0" r="2.35"/><circle cx="156.8" cy="393.1" r="2.35"/><circle cx="153.1" cy="396.9" r="2.35"/><circle cx="159.0" cy="390.6" r="2.35"/><circle cx="173.1" cy="349.8" r="2.35"/><circle cx="182.7" cy="350.8" r="2.35"/><circle cx="187.7" cy="349.8" r="2.35"/><circle cx="192.3" cy="353.1" r="2.35"/><circle cx="205.0" cy="350.2" r="2.35"/><circle cx="209.6" cy="352.7" r="2.35"/><circle cx="216.0" cy="351.5" r="2.35"/><circle cx="206.3" cy="358.5" r="2.35"/><circle cx="201.9" cy="360.8" r="2.35"/><circle cx="209.2" cy="360.8" r="2.35"/><circle cx="158.8" cy="355.4" r="2.35"/><circle cx="162.7" cy="356.9" r="2.35"/><circle cx="166.5" cy="356.0" r="2.35"/><circle cx="151.2" cy="358.8" r="2.35"/><circle cx="151.5" cy="361.2" r="2.35"/><circle cx="177.5" cy="354.0" r="2.35"/><circle cx="180.4" cy="356.0" r="2.35"/><circle cx="178.5" cy="358.8" r="2.35"/><circle cx="174.6" cy="360.8" r="2.35"/><circle cx="176.5" cy="362.7" r="2.35"/><circle cx="180.4" cy="361.7" r="2.35"/><circle cx="186.2" cy="358.8" r="2.35"/><circle cx="191.0" cy="356.9" r="2.35"/><circle cx="169.8" cy="367.5" r="2.35"/><circle cx="171.7" cy="370.4" r="2.35"/><circle cx="174.6" cy="371.3" r="2.35"/><circle cx="177.5" cy="371.3" r="2.35"/><circle cx="180.4" cy="371.3" r="2.35"/><circle cx="185.2" cy="374.2" r="2.35"/><circle cx="149.6" cy="371.3" r="2.35"/><circle cx="153.5" cy="373.3" r="2.35"/><circle cx="143.8" cy="377.1" r="2.35"/><circle cx="148.7" cy="380.0" r="2.35"/><circle cx="144.8" cy="382.9" r="2.35"/><circle cx="166.0" cy="376.2" r="2.35"/><circle cx="173.7" cy="380.0" r="2.35"/><circle cx="174.6" cy="382.9" r="2.35"/><circle cx="168.8" cy="385.8" r="2.35"/><circle cx="165.0" cy="386.7" r="2.35"/><circle cx="176.5" cy="385.8" r="2.35"/><circle cx="178.5" cy="389.6" r="2.35"/><circle cx="169.8" cy="388.7" r="2.35"/><circle cx="163.1" cy="393.5" r="2.35"/><circle cx="161.2" cy="396.3" r="2.35"/><circle cx="166.9" cy="406.0" r="2.35"/><circle cx="163.1" cy="409.8" r="2.35"/><circle cx="156.3" cy="387.7" r="2.35"/><circle cx="160.2" cy="389.6" r="2.35"/><circle cx="147.2" cy="390.6" r="2.35"/><circle cx="148.3" cy="391.3" r="2.35"/><circle cx="149.6" cy="391.4" r="2.35"/><circle cx="150.4" cy="385.5" r="2.35"/><circle cx="155.3" cy="394.6" r="2.35"/><circle cx="150.6" cy="389.3" r="2.35"/><circle cx="154.8" cy="394.1" r="2.35"/><circle cx="152.1" cy="384.7" r="2.35"/><circle cx="156.3" cy="390.5" r="2.35"/><circle cx="154.2" cy="388.5" r="2.35"/><circle cx="151.0" cy="385.6" r="2.35"/><circle cx="158.0" cy="392.2" r="2.35"/><circle cx="148.2" cy="393.7" r="2.35"/><circle cx="153.6" cy="392.3" r="2.35"/><circle cx="155.6" cy="392.2" r="2.35"/><circle cx="151.4" cy="392.9" r="2.35"/><circle cx="151.1" cy="389.2" r="2.35"/><circle cx="151.0" cy="392.8" r="2.35"/><circle cx="150.8" cy="388.3" r="2.35"/><circle cx="156.5" cy="395.2" r="2.35"/><circle cx="154.5" cy="395.9" r="2.35"/><circle cx="151.2" cy="392.8" r="2.35"/><circle cx="149.6" cy="387.7" r="2.35"/><circle cx="147.9" cy="395.2" r="2.35"/><circle cx="157.4" cy="387.5" r="2.35"/><circle cx="151.1" cy="384.7" r="2.35"/><circle cx="148.4" cy="392.7" r="2.35"/><circle cx="149.7" cy="394.6" r="2.35"/><circle cx="149.3" cy="396.4" r="2.35"/><circle cx="150.8" cy="390.2" r="2.35"/><circle cx="149.1" cy="387.4" r="2.35"/><circle cx="151.6" cy="387.2" r="2.35"/><circle cx="154.1" cy="395.2" r="2.35"/><circle cx="150.5" cy="385.8" r="2.35"/><circle cx="155.9" cy="392.2" r="2.35"/><circle cx="146.9" cy="389.9" r="2.35"/><circle cx="114.1" cy="420.8" r="2.35"/><circle cx="103.7" cy="433.7" r="2.35"/><circle cx="116.9" cy="433.7" r="2.35"/><circle cx="116.4" cy="433.0" r="2.35"/><circle cx="122.7" cy="418.3" r="2.35"/><circle cx="110.2" cy="436.4" r="2.35"/><circle cx="106.4" cy="434.2" r="2.35"/><circle cx="108.3" cy="422.7" r="2.35"/><circle cx="125.3" cy="415.8" r="2.35"/><circle cx="121.3" cy="421.4" r="2.35"/><circle cx="117.0" cy="428.9" r="2.35"/><circle cx="113.6" cy="417.4" r="2.35"/><circle cx="113.8" cy="423.3" r="2.35"/><circle cx="117.1" cy="427.2" r="2.35"/><circle cx="119.0" cy="421.9" r="2.35"/><circle cx="124.1" cy="422.9" r="2.35"/><circle cx="121.4" cy="413.2" r="2.35"/><circle cx="112.6" cy="425.8" r="2.35"/><circle cx="112.9" cy="421.0" r="2.35"/><circle cx="118.0" cy="417.2" r="2.35"/><circle cx="125.0" cy="421.5" r="2.35"/><circle cx="102.5" cy="431.1" r="2.35"/><circle cx="120.9" cy="420.5" r="2.35"/><circle cx="116.6" cy="420.5" r="2.35"/><circle cx="111.1" cy="421.0" r="2.35"/><circle cx="110.5" cy="422.9" r="2.35"/><circle cx="113.2" cy="416.7" r="2.35"/><circle cx="103.1" cy="428.9" r="2.35"/><circle cx="115.9" cy="425.3" r="2.35"/><circle cx="119.7" cy="416.6" r="2.35"/><circle cx="111.1" cy="436.0" r="2.35"/><circle cx="123.3" cy="423.5" r="2.35"/><circle cx="113.5" cy="435.3" r="2.35"/><circle cx="122.4" cy="416.2" r="2.35"/><circle cx="104.8" cy="430.9" r="2.35"/><circle cx="110.7" cy="432.1" r="2.35"/><circle cx="122.1" cy="423.8" r="2.35"/><circle cx="112.4" cy="425.8" r="2.35"/><circle cx="112.0" cy="424.1" r="2.35"/><circle cx="115.5" cy="428.1" r="2.35"/>
</g>
<g stroke="#fa5416">
<circle cx="135.0" cy="387.9" r="2.35"/><circle cx="142.7" cy="387.9" r="2.35"/><circle cx="144.6" cy="391.7" r="2.35"/><circle cx="134.0" cy="393.7" r="2.35"/><circle cx="138.8" cy="394.6" r="2.35"/><circle cx="144.6" cy="398.5" r="2.35"/><circle cx="136.9" cy="390.8" r="2.35"/><circle cx="140.8" cy="396.5" r="2.35"/><circle cx="136.9" cy="433.1" r="2.35"/><circle cx="104.2" cy="434.0" r="2.35"/><circle cx="104.6" cy="437.9" r="2.35"/><circle cx="105.2" cy="441.7" r="2.35"/><circle cx="104.8" cy="446.5" r="2.35"/><circle cx="117.7" cy="455.2" r="2.35"/><circle cx="111.9" cy="461.9" r="2.35"/><circle cx="113.8" cy="463.8" r="2.35"/><circle cx="123.5" cy="415.8" r="2.35"/><circle cx="116.7" cy="454.2" r="2.35"/><circle cx="142.4" cy="399.2" r="2.35"/><circle cx="141.4" cy="400.9" r="2.35"/><circle cx="144.0" cy="402.4" r="2.35"/><circle cx="141.2" cy="402.7" r="2.35"/><circle cx="143.1" cy="403.8" r="2.35"/><circle cx="144.5" cy="401.7" r="2.35"/><circle cx="142.1" cy="403.9" r="2.35"/><circle cx="138.6" cy="405.3" r="2.35"/><circle cx="141.3" cy="406.6" r="2.35"/><circle cx="140.1" cy="403.1" r="2.35"/><circle cx="139.0" cy="406.2" r="2.35"/><circle cx="141.7" cy="406.0" r="2.35"/><circle cx="138.1" cy="409.5" r="2.35"/><circle cx="137.5" cy="405.7" r="2.35"/><circle cx="137.5" cy="408.7" r="2.35"/><circle cx="136.8" cy="404.0" r="2.35"/><circle cx="135.2" cy="410.0" r="2.35"/><circle cx="134.1" cy="410.2" r="2.35"/><circle cx="135.6" cy="407.1" r="2.35"/><circle cx="136.5" cy="404.7" r="2.35"/><circle cx="130.0" cy="406.4" r="2.35"/><circle cx="135.1" cy="409.5" r="2.35"/><circle cx="134.8" cy="410.3" r="2.35"/><circle cx="133.4" cy="409.8" r="2.35"/><circle cx="131.8" cy="413.4" r="2.35"/><circle cx="133.8" cy="409.0" r="2.35"/><circle cx="133.0" cy="416.5" r="2.35"/><circle cx="133.0" cy="410.7" r="2.35"/><circle cx="132.5" cy="413.5" r="2.35"/><circle cx="129.8" cy="415.5" r="2.35"/><circle cx="132.7" cy="412.8" r="2.35"/><circle cx="129.9" cy="413.5" r="2.35"/><circle cx="129.2" cy="418.1" r="2.35"/><circle cx="127.9" cy="416.4" r="2.35"/><circle cx="128.9" cy="415.8" r="2.35"/><circle cx="125.5" cy="417.3" r="2.35"/><circle cx="125.1" cy="417.9" r="2.35"/><circle cx="126.8" cy="417.1" r="2.35"/><circle cx="125.6" cy="415.4" r="2.35"/><circle cx="123.9" cy="417.6" r="2.35"/><circle cx="125.4" cy="418.6" r="2.35"/><circle cx="124.5" cy="420.0" r="2.35"/><circle cx="125.0" cy="419.1" r="2.35"/><circle cx="123.7" cy="419.2" r="2.35"/><circle cx="125.1" cy="418.2" r="2.35"/><circle cx="120.8" cy="420.8" r="2.35"/><circle cx="123.7" cy="420.5" r="2.35"/><circle cx="122.9" cy="418.1" r="2.35"/><circle cx="119.9" cy="421.2" r="2.35"/><circle cx="121.4" cy="419.0" r="2.35"/><circle cx="122.0" cy="418.1" r="2.35"/><circle cx="123.2" cy="420.2" r="2.35"/><circle cx="119.0" cy="420.7" r="2.35"/><circle cx="116.9" cy="422.6" r="2.35"/><circle cx="115.3" cy="423.0" r="2.35"/><circle cx="119.2" cy="423.5" r="2.35"/><circle cx="118.3" cy="421.5" r="2.35"/><circle cx="114.1" cy="422.1" r="2.35"/><circle cx="119.7" cy="426.0" r="2.35"/><circle cx="113.3" cy="429.3" r="2.35"/><circle cx="117.9" cy="428.4" r="2.35"/><circle cx="118.3" cy="429.3" r="2.35"/><circle cx="112.2" cy="427.1" r="2.35"/><circle cx="113.7" cy="431.4" r="2.35"/><circle cx="116.3" cy="427.8" r="2.35"/><circle cx="113.9" cy="423.8" r="2.35"/><circle cx="114.1" cy="426.9" r="2.35"/><circle cx="116.3" cy="430.6" r="2.35"/><circle cx="112.9" cy="428.6" r="2.35"/><circle cx="114.9" cy="428.8" r="2.35"/><circle cx="128.9" cy="431.2" r="2.35"/><circle cx="128.0" cy="431.0" r="2.35"/><circle cx="130.9" cy="428.4" r="2.35"/><circle cx="130.4" cy="430.6" r="2.35"/><circle cx="129.9" cy="431.1" r="2.35"/><circle cx="131.6" cy="429.6" r="2.35"/><circle cx="130.4" cy="429.2" r="2.35"/><circle cx="130.7" cy="428.8" r="2.35"/><circle cx="135.2" cy="426.8" r="2.35"/><circle cx="135.2" cy="426.2" r="2.35"/><circle cx="134.2" cy="427.8" r="2.35"/><circle cx="133.1" cy="427.0" r="2.35"/><circle cx="124.8" cy="442.1" r="2.35"/><circle cx="123.3" cy="443.6" r="2.35"/><circle cx="123.4" cy="441.7" r="2.35"/><circle cx="125.5" cy="444.2" r="2.35"/><circle cx="123.5" cy="441.2" r="2.35"/><circle cx="125.3" cy="442.6" r="2.35"/><circle cx="125.4" cy="443.7" r="2.35"/><circle cx="124.5" cy="441.8" r="2.35"/><circle cx="124.5" cy="443.3" r="2.35"/><circle cx="123.7" cy="443.2" r="2.35"/>
</g>
</g>
<rect x="60.6" y="286.6" width="194.2" height="198.7" fill="none" stroke="#151515" stroke-width="1.25"/>
<path d="M112.0 485.3v-2.3M112.0 286.6v2.3M60.6 432.7h2.3M254.8 432.7h-2.3M169.1 485.3v-2.3M169.1 286.6v2.3M60.6 374.3h2.3M254.8 374.3h-2.3M226.2 485.3v-2.3M226.2 286.6v2.3M60.6 315.8h2.3M254.8 315.8h-2.3" stroke="#151515" stroke-width="1.15" fill="none"/>
<text x="112.0" y="512.3" font-size="19.3" text-anchor="middle">10</text>
<text x="52.6"  y="439.9" font-size="19.3" text-anchor="end">10</text>
<text x="169.1" y="512.3" font-size="19.3" text-anchor="middle">20</text>
<text x="52.6"  y="381.5" font-size="19.3" text-anchor="end">20</text>
<text x="226.2" y="512.3" font-size="19.3" text-anchor="middle">30</text>
<text x="52.6"  y="323.0" font-size="19.3" text-anchor="end">30</text>
<text x="77.6" y="315.9" font-size="18.5" letter-spacing="1">(c)</text>
<line x1="317.1" y1="485.3" x2="510.9" y2="286.6" stroke="#111" stroke-width="1.75"/>
<g fill="none" stroke-width="1.35">
<g stroke="#5aae2a">
<circle cx="376.6" cy="399.4" r="2.35"/><circle cx="378.5" cy="397.5" r="2.35"/><circle cx="349.7" cy="420.6" r="2.35"/><circle cx="345.8" cy="441.7" r="2.35"/><circle cx="368.0" cy="442.7" r="2.35"/><circle cx="368.9" cy="448.5" r="2.35"/><circle cx="368.0" cy="452.3" r="2.35"/><circle cx="371.8" cy="451.3" r="2.35"/><circle cx="374.7" cy="436.9" r="2.35"/><circle cx="376.6" cy="440.8" r="2.35"/><circle cx="374.7" cy="402.3" r="2.35"/>
</g>
<g stroke="#0a76cc">
<circle cx="346.3" cy="412.1" r="2.35"/><circle cx="344.0" cy="411.6" r="2.35"/><circle cx="347.3" cy="411.2" r="2.35"/><circle cx="346.2" cy="412.4" r="2.35"/><circle cx="345.1" cy="413.1" r="2.35"/><circle cx="342.8" cy="416.8" r="2.35"/><circle cx="342.9" cy="415.7" r="2.35"/><circle cx="343.4" cy="419.9" r="2.35"/><circle cx="345.4" cy="422.8" r="2.35"/><circle cx="339.7" cy="423.8" r="2.35"/><circle cx="344.3" cy="425.0" r="2.35"/><circle cx="341.3" cy="424.7" r="2.35"/><circle cx="341.5" cy="426.9" r="2.35"/><circle cx="341.3" cy="429.4" r="2.35"/><circle cx="343.4" cy="430.0" r="2.35"/><circle cx="341.6" cy="431.5" r="2.35"/><circle cx="342.1" cy="436.2" r="2.35"/><circle cx="341.5" cy="434.3" r="2.35"/><circle cx="343.1" cy="437.6" r="2.35"/><circle cx="342.7" cy="439.8" r="2.35"/><circle cx="354.8" cy="405.3" r="2.35"/><circle cx="354.5" cy="407.5" r="2.35"/><circle cx="356.4" cy="408.8" r="2.35"/><circle cx="357.3" cy="411.5" r="2.35"/><circle cx="355.9" cy="412.9" r="2.35"/><circle cx="356.7" cy="415.3" r="2.35"/><circle cx="351.6" cy="420.6" r="2.35"/><circle cx="349.7" cy="425.4" r="2.35"/><circle cx="347.8" cy="435.0" r="2.35"/><circle cx="352.6" cy="458.1" r="2.35"/><circle cx="382.4" cy="388.8" r="2.35"/><circle cx="386.2" cy="390.8" r="2.35"/><circle cx="383.3" cy="393.7" r="2.35"/><circle cx="381.4" cy="396.5" r="2.35"/><circle cx="388.2" cy="388.8" r="2.35"/><circle cx="391.0" cy="387.9" r="2.35"/><circle cx="385.3" cy="395.6" r="2.35"/><circle cx="393.9" cy="422.5" r="2.35"/><circle cx="393.0" cy="426.3" r="2.35"/><circle cx="401.6" cy="413.8" r="2.35"/><circle cx="404.5" cy="411.9" r="2.35"/><circle cx="407.4" cy="409.0" r="2.35"/><circle cx="411.2" cy="408.1" r="2.35"/><circle cx="412.2" cy="403.3" r="2.35"/><circle cx="416.0" cy="414.8" r="2.35"/><circle cx="399.7" cy="417.7" r="2.35"/><circle cx="373.7" cy="456.2" r="2.35"/><circle cx="374.7" cy="459.0" r="2.35"/><circle cx="372.8" cy="461.9" r="2.35"/><circle cx="376.6" cy="461.0" r="2.35"/><circle cx="340.7" cy="438.5" r="2.35"/><circle cx="347.9" cy="438.2" r="2.35"/><circle cx="348.2" cy="453.5" r="2.35"/><circle cx="348.0" cy="448.0" r="2.35"/><circle cx="343.3" cy="437.5" r="2.35"/><circle cx="346.8" cy="448.6" r="2.35"/><circle cx="352.3" cy="448.2" r="2.35"/><circle cx="351.6" cy="448.4" r="2.35"/><circle cx="355.0" cy="447.8" r="2.35"/><circle cx="352.0" cy="451.0" r="2.35"/><circle cx="355.1" cy="445.5" r="2.35"/><circle cx="353.0" cy="444.3" r="2.35"/><circle cx="341.9" cy="442.1" r="2.35"/><circle cx="348.5" cy="439.0" r="2.35"/><circle cx="339.9" cy="444.3" r="2.35"/><circle cx="335.9" cy="447.9" r="2.35"/><circle cx="342.5" cy="451.5" r="2.35"/><circle cx="337.5" cy="446.7" r="2.35"/><circle cx="339.8" cy="453.2" r="2.35"/><circle cx="339.6" cy="445.9" r="2.35"/><circle cx="344.8" cy="442.0" r="2.35"/><circle cx="345.0" cy="438.4" r="2.35"/><circle cx="340.9" cy="442.3" r="2.35"/><circle cx="351.2" cy="451.0" r="2.35"/><circle cx="348.7" cy="447.8" r="2.35"/><circle cx="352.3" cy="450.5" r="2.35"/><circle cx="349.7" cy="452.2" r="2.35"/><circle cx="336.6" cy="447.4" r="2.35"/><circle cx="347.0" cy="448.0" r="2.35"/><circle cx="344.5" cy="442.0" r="2.35"/><circle cx="354.9" cy="444.1" r="2.35"/><circle cx="334.7" cy="449.2" r="2.35"/><circle cx="338.9" cy="441.1" r="2.35"/><circle cx="339.9" cy="448.1" r="2.35"/><circle cx="340.2" cy="449.1" r="2.35"/><circle cx="338.8" cy="451.9" r="2.35"/><circle cx="335.1" cy="447.6" r="2.35"/><circle cx="349.0" cy="446.6" r="2.35"/><circle cx="351.3" cy="446.1" r="2.35"/><circle cx="343.0" cy="437.7" r="2.35"/><circle cx="344.8" cy="453.7" r="2.35"/><circle cx="348.2" cy="439.3" r="2.35"/><circle cx="349.1" cy="449.8" r="2.35"/><circle cx="340.4" cy="451.0" r="2.35"/><circle cx="344.4" cy="418.4" r="2.35"/><circle cx="343.8" cy="414.6" r="2.35"/><circle cx="341.0" cy="431.5" r="2.35"/><circle cx="341.7" cy="428.3" r="2.35"/><circle cx="341.9" cy="412.2" r="2.35"/><circle cx="344.5" cy="408.7" r="2.35"/><circle cx="344.8" cy="424.1" r="2.35"/><circle cx="348.8" cy="415.1" r="2.35"/><circle cx="340.3" cy="413.0" r="2.35"/><circle cx="343.4" cy="418.6" r="2.35"/><circle cx="341.9" cy="433.3" r="2.35"/><circle cx="341.3" cy="429.8" r="2.35"/><circle cx="343.8" cy="409.8" r="2.35"/><circle cx="338.0" cy="423.8" r="2.35"/><circle cx="345.8" cy="413.4" r="2.35"/><circle cx="345.6" cy="430.0" r="2.35"/><circle cx="346.1" cy="413.7" r="2.35"/><circle cx="343.9" cy="408.3" r="2.35"/><circle cx="341.9" cy="432.1" r="2.35"/><circle cx="338.4" cy="415.1" r="2.35"/><circle cx="341.8" cy="409.2" r="2.35"/><circle cx="341.8" cy="412.6" r="2.35"/><circle cx="389.5" cy="425.0" r="2.35"/><circle cx="390.0" cy="426.0" r="2.35"/><circle cx="389.3" cy="428.2" r="2.35"/><circle cx="387.4" cy="430.8" r="2.35"/><circle cx="388.4" cy="433.9" r="2.35"/><circle cx="388.0" cy="435.0" r="2.35"/><circle cx="387.4" cy="435.9" r="2.35"/><circle cx="385.7" cy="437.5" r="2.35"/><circle cx="385.8" cy="437.5" r="2.35"/><circle cx="385.5" cy="441.1" r="2.35"/><circle cx="385.5" cy="444.7" r="2.35"/><circle cx="384.3" cy="446.8" r="2.35"/><circle cx="359.3" cy="449.5" r="2.35"/><circle cx="353.2" cy="445.7" r="2.35"/><circle cx="362.2" cy="450.8" r="2.35"/><circle cx="360.6" cy="435.8" r="2.35"/><circle cx="346.7" cy="449.7" r="2.35"/><circle cx="360.0" cy="446.8" r="2.35"/><circle cx="360.0" cy="438.8" r="2.35"/><circle cx="360.0" cy="438.9" r="2.35"/><circle cx="365.0" cy="441.6" r="2.35"/><circle cx="355.2" cy="433.8" r="2.35"/><circle cx="364.1" cy="439.7" r="2.35"/><circle cx="361.6" cy="436.4" r="2.35"/><circle cx="355.6" cy="430.3" r="2.35"/><circle cx="363.7" cy="425.1" r="2.35"/><circle cx="364.2" cy="434.4" r="2.35"/><circle cx="365.4" cy="434.5" r="2.35"/><circle cx="371.3" cy="431.1" r="2.35"/><circle cx="360.4" cy="421.6" r="2.35"/><circle cx="355.0" cy="428.3" r="2.35"/><circle cx="369.1" cy="419.9" r="2.35"/><circle cx="366.8" cy="423.0" r="2.35"/><circle cx="365.6" cy="426.0" r="2.35"/><circle cx="367.6" cy="419.1" r="2.35"/><circle cx="371.3" cy="422.7" r="2.35"/><circle cx="360.9" cy="425.6" r="2.35"/><circle cx="376.3" cy="419.7" r="2.35"/><circle cx="377.1" cy="413.7" r="2.35"/><circle cx="369.9" cy="425.0" r="2.35"/><circle cx="377.3" cy="420.7" r="2.35"/><circle cx="376.9" cy="415.8" r="2.35"/><circle cx="376.1" cy="420.7" r="2.35"/><circle cx="377.8" cy="417.3" r="2.35"/><circle cx="378.1" cy="416.6" r="2.35"/><circle cx="377.9" cy="407.3" r="2.35"/><circle cx="378.7" cy="409.1" r="2.35"/><circle cx="375.5" cy="412.6" r="2.35"/><circle cx="379.0" cy="406.0" r="2.35"/><circle cx="376.6" cy="411.9" r="2.35"/><circle cx="378.0" cy="410.2" r="2.35"/><circle cx="381.7" cy="410.3" r="2.35"/><circle cx="379.3" cy="409.4" r="2.35"/><circle cx="384.9" cy="402.4" r="2.35"/><circle cx="386.7" cy="402.8" r="2.35"/><circle cx="385.9" cy="408.9" r="2.35"/><circle cx="387.9" cy="400.6" r="2.35"/><circle cx="382.2" cy="399.8" r="2.35"/><circle cx="389.5" cy="404.7" r="2.35"/><circle cx="380.3" cy="406.6" r="2.35"/><circle cx="394.0" cy="400.5" r="2.35"/><circle cx="389.6" cy="403.1" r="2.35"/><circle cx="386.6" cy="399.5" r="2.35"/><circle cx="394.2" cy="399.2" r="2.35"/><circle cx="392.7" cy="400.5" r="2.35"/><circle cx="401.0" cy="400.4" r="2.35"/><circle cx="396.1" cy="396.6" r="2.35"/><circle cx="400.9" cy="398.2" r="2.35"/><circle cx="396.5" cy="402.8" r="2.35"/><circle cx="403.3" cy="392.6" r="2.35"/><circle cx="397.2" cy="401.3" r="2.35"/><circle cx="397.5" cy="401.9" r="2.35"/><circle cx="463.1" cy="358.8" r="2.35"/><circle cx="447.1" cy="360.2" r="2.35"/><circle cx="451.9" cy="359.6" r="2.35"/><circle cx="455.8" cy="362.1" r="2.35"/><circle cx="450.0" cy="366.0" r="2.35"/><circle cx="441.3" cy="364.0" r="2.35"/><circle cx="437.5" cy="366.0" r="2.35"/><circle cx="446.2" cy="363.1" r="2.35"/><circle cx="424.0" cy="363.1" r="2.35"/><circle cx="413.5" cy="364.0" r="2.35"/><circle cx="411.5" cy="366.0" r="2.35"/><circle cx="451.0" cy="376.9" r="2.35"/><circle cx="466.7" cy="385.2" r="2.35"/><circle cx="449.0" cy="388.7" r="2.35"/><circle cx="474.0" cy="392.9" r="2.35"/><circle cx="403.8" cy="373.7" r="2.35"/><circle cx="401.0" cy="379.4" r="2.35"/><circle cx="436.5" cy="355.4" r="2.35"/><circle cx="413.1" cy="364.2" r="2.35"/><circle cx="414.6" cy="368.1" r="2.35"/><circle cx="423.1" cy="361.9" r="2.35"/><circle cx="400.8" cy="378.1" r="2.35"/><circle cx="399.2" cy="382.7" r="2.35"/><circle cx="382.3" cy="390.4" r="2.35"/><circle cx="386.2" cy="389.6" r="2.35"/><circle cx="389.2" cy="388.1" r="2.35"/><circle cx="385.4" cy="394.2" r="2.35"/><circle cx="381.5" cy="397.3" r="2.35"/><circle cx="418.5" cy="415.0" r="2.35"/><circle cx="404.6" cy="416.5" r="2.35"/><circle cx="401.5" cy="420.4" r="2.35"/><circle cx="397.7" cy="418.8" r="2.35"/><circle cx="394.6" cy="421.2" r="2.35"/><circle cx="409.2" cy="398.8" r="2.35"/><circle cx="412.3" cy="403.5" r="2.35"/>
</g>
<g stroke="#fab10f">
<circle cx="336.2" cy="466.8" r="2.35"/><circle cx="334.6" cy="456.8" r="2.35"/><circle cx="333.8" cy="466.4" r="2.35"/><circle cx="336.1" cy="460.1" r="2.35"/><circle cx="336.9" cy="459.0" r="2.35"/><circle cx="339.2" cy="461.0" r="2.35"/><circle cx="337.6" cy="459.0" r="2.35"/><circle cx="343.0" cy="462.5" r="2.35"/><circle cx="342.5" cy="463.0" r="2.35"/><circle cx="340.0" cy="461.8" r="2.35"/><circle cx="345.1" cy="457.3" r="2.35"/><circle cx="344.8" cy="452.9" r="2.35"/><circle cx="337.0" cy="455.1" r="2.35"/><circle cx="339.7" cy="456.1" r="2.35"/><circle cx="341.4" cy="460.3" r="2.35"/><circle cx="341.2" cy="457.1" r="2.35"/><circle cx="340.2" cy="453.7" r="2.35"/><circle cx="343.5" cy="455.6" r="2.35"/><circle cx="346.6" cy="457.5" r="2.35"/><circle cx="340.3" cy="458.8" r="2.35"/><circle cx="342.2" cy="455.7" r="2.35"/><circle cx="343.1" cy="454.4" r="2.35"/><circle cx="344.6" cy="453.2" r="2.35"/><circle cx="344.6" cy="455.1" r="2.35"/><circle cx="348.6" cy="457.2" r="2.35"/><circle cx="351.6" cy="451.0" r="2.35"/><circle cx="346.5" cy="457.8" r="2.35"/><circle cx="345.0" cy="453.9" r="2.35"/><circle cx="350.0" cy="457.9" r="2.35"/><circle cx="350.0" cy="454.5" r="2.35"/><circle cx="348.5" cy="454.8" r="2.35"/><circle cx="349.5" cy="453.8" r="2.35"/><circle cx="348.0" cy="452.2" r="2.35"/><circle cx="347.8" cy="449.5" r="2.35"/><circle cx="348.2" cy="449.7" r="2.35"/><circle cx="349.0" cy="450.0" r="2.35"/><circle cx="347.2" cy="451.9" r="2.35"/><circle cx="352.2" cy="454.6" r="2.35"/><circle cx="345.9" cy="446.9" r="2.35"/><circle cx="349.7" cy="447.9" r="2.35"/><circle cx="352.6" cy="447.6" r="2.35"/><circle cx="350.9" cy="451.2" r="2.35"/><circle cx="352.7" cy="444.9" r="2.35"/><circle cx="355.9" cy="454.2" r="2.35"/><circle cx="356.7" cy="447.8" r="2.35"/><circle cx="357.7" cy="447.7" r="2.35"/><circle cx="353.7" cy="448.2" r="2.35"/><circle cx="358.2" cy="447.5" r="2.35"/><circle cx="354.6" cy="443.4" r="2.35"/><circle cx="356.1" cy="443.8" r="2.35"/><circle cx="355.7" cy="442.6" r="2.35"/><circle cx="354.1" cy="443.2" r="2.35"/><circle cx="355.0" cy="442.4" r="2.35"/><circle cx="360.0" cy="446.8" r="2.35"/><circle cx="356.5" cy="441.9" r="2.35"/><circle cx="360.3" cy="443.5" r="2.35"/><circle cx="359.4" cy="446.2" r="2.35"/><circle cx="357.2" cy="444.4" r="2.35"/><circle cx="359.7" cy="441.9" r="2.35"/><circle cx="358.5" cy="441.0" r="2.35"/><circle cx="350.7" cy="441.2" r="2.35"/><circle cx="363.7" cy="444.3" r="2.35"/><circle cx="366.7" cy="441.6" r="2.35"/><circle cx="362.4" cy="439.5" r="2.35"/><circle cx="358.6" cy="438.4" r="2.35"/><circle cx="362.0" cy="442.2" r="2.35"/><circle cx="356.4" cy="441.6" r="2.35"/><circle cx="363.8" cy="441.4" r="2.35"/><circle cx="358.6" cy="439.6" r="2.35"/><circle cx="363.0" cy="435.3" r="2.35"/><circle cx="359.6" cy="443.8" r="2.35"/><circle cx="361.1" cy="436.7" r="2.35"/><circle cx="358.2" cy="436.0" r="2.35"/><circle cx="366.8" cy="438.1" r="2.35"/><circle cx="361.6" cy="436.8" r="2.35"/><circle cx="365.0" cy="437.8" r="2.35"/><circle cx="361.9" cy="436.9" r="2.35"/><circle cx="363.1" cy="434.3" r="2.35"/><circle cx="362.9" cy="433.2" r="2.35"/><circle cx="366.6" cy="430.4" r="2.35"/><circle cx="366.2" cy="441.2" r="2.35"/><circle cx="363.7" cy="433.3" r="2.35"/><circle cx="366.1" cy="437.5" r="2.35"/><circle cx="363.0" cy="434.6" r="2.35"/><circle cx="366.6" cy="437.7" r="2.35"/><circle cx="366.7" cy="437.3" r="2.35"/><circle cx="365.1" cy="432.9" r="2.35"/><circle cx="365.1" cy="430.1" r="2.35"/><circle cx="365.0" cy="430.2" r="2.35"/><circle cx="372.3" cy="429.4" r="2.35"/><circle cx="374.9" cy="434.4" r="2.35"/><circle cx="369.8" cy="430.0" r="2.35"/><circle cx="370.1" cy="427.7" r="2.35"/><circle cx="371.1" cy="429.4" r="2.35"/><circle cx="365.1" cy="428.9" r="2.35"/><circle cx="371.7" cy="428.5" r="2.35"/><circle cx="371.4" cy="428.0" r="2.35"/><circle cx="369.7" cy="430.2" r="2.35"/><circle cx="374.7" cy="426.4" r="2.35"/><circle cx="373.5" cy="424.1" r="2.35"/><circle cx="374.9" cy="424.3" r="2.35"/><circle cx="372.2" cy="428.3" r="2.35"/><circle cx="371.2" cy="425.7" r="2.35"/><circle cx="375.2" cy="423.8" r="2.35"/><circle cx="373.9" cy="427.5" r="2.35"/><circle cx="374.0" cy="422.4" r="2.35"/><circle cx="372.7" cy="423.3" r="2.35"/><circle cx="374.0" cy="425.1" r="2.35"/><circle cx="370.4" cy="423.0" r="2.35"/><circle cx="375.1" cy="426.5" r="2.35"/><circle cx="373.1" cy="435.5" r="2.35"/><circle cx="379.4" cy="429.2" r="2.35"/><circle cx="372.0" cy="423.4" r="2.35"/><circle cx="365.4" cy="433.3" r="2.35"/><circle cx="365.4" cy="431.1" r="2.35"/><circle cx="367.1" cy="425.2" r="2.35"/><circle cx="375.9" cy="429.1" r="2.35"/><circle cx="366.4" cy="434.0" r="2.35"/><circle cx="371.0" cy="431.0" r="2.35"/><circle cx="374.9" cy="437.3" r="2.35"/><circle cx="376.2" cy="424.9" r="2.35"/><circle cx="376.1" cy="421.8" r="2.35"/><circle cx="366.1" cy="430.4" r="2.35"/><circle cx="367.0" cy="431.5" r="2.35"/><circle cx="368.5" cy="439.6" r="2.35"/><circle cx="370.8" cy="436.9" r="2.35"/><circle cx="378.7" cy="429.2" r="2.35"/><circle cx="375.9" cy="430.0" r="2.35"/><circle cx="370.3" cy="422.2" r="2.35"/><circle cx="374.2" cy="439.1" r="2.35"/><circle cx="374.7" cy="426.3" r="2.35"/><circle cx="372.2" cy="427.2" r="2.35"/><circle cx="370.1" cy="436.0" r="2.35"/><circle cx="364.2" cy="429.8" r="2.35"/><circle cx="335.3" cy="462.9" r="2.35"/><circle cx="340.1" cy="461.0" r="2.35"/><circle cx="344.9" cy="462.3" r="2.35"/><circle cx="357.4" cy="461.9" r="2.35"/><circle cx="361.2" cy="461.0" r="2.35"/><circle cx="363.2" cy="453.3" r="2.35"/><circle cx="368.9" cy="459.0" r="2.35"/><circle cx="363.2" cy="448.5" r="2.35"/><circle cx="358.3" cy="459.0" r="2.35"/><circle cx="373.2" cy="422.0" r="2.35"/><circle cx="375.0" cy="419.2" r="2.35"/><circle cx="373.7" cy="421.8" r="2.35"/><circle cx="373.4" cy="418.1" r="2.35"/><circle cx="375.0" cy="416.3" r="2.35"/><circle cx="377.3" cy="414.8" r="2.35"/><circle cx="379.5" cy="419.6" r="2.35"/><circle cx="377.2" cy="419.2" r="2.35"/><circle cx="380.7" cy="415.0" r="2.35"/><circle cx="377.8" cy="413.6" r="2.35"/><circle cx="377.2" cy="413.5" r="2.35"/><circle cx="378.9" cy="415.3" r="2.35"/><circle cx="385.5" cy="414.3" r="2.35"/><circle cx="382.6" cy="412.2" r="2.35"/><circle cx="385.2" cy="412.6" r="2.35"/><circle cx="380.7" cy="411.0" r="2.35"/><circle cx="381.9" cy="410.1" r="2.35"/><circle cx="383.0" cy="415.7" r="2.35"/><circle cx="383.3" cy="408.1" r="2.35"/><circle cx="378.6" cy="409.4" r="2.35"/><circle cx="381.6" cy="407.0" r="2.35"/><circle cx="385.5" cy="409.6" r="2.35"/><circle cx="387.0" cy="411.4" r="2.35"/><circle cx="383.7" cy="405.8" r="2.35"/><circle cx="384.6" cy="404.3" r="2.35"/><circle cx="385.8" cy="404.2" r="2.35"/><circle cx="390.2" cy="403.0" r="2.35"/><circle cx="395.0" cy="399.7" r="2.35"/><circle cx="391.8" cy="400.5" r="2.35"/><circle cx="388.7" cy="400.9" r="2.35"/><circle cx="390.7" cy="405.0" r="2.35"/><circle cx="390.1" cy="401.2" r="2.35"/><circle cx="389.0" cy="400.1" r="2.35"/><circle cx="390.0" cy="400.0" r="2.35"/><circle cx="393.1" cy="403.8" r="2.35"/><circle cx="391.6" cy="395.1" r="2.35"/><circle cx="393.1" cy="402.4" r="2.35"/><circle cx="391.8" cy="400.6" r="2.35"/><circle cx="392.1" cy="395.4" r="2.35"/><circle cx="396.5" cy="393.2" r="2.35"/><circle cx="395.3" cy="390.2" r="2.35"/><circle cx="394.1" cy="398.2" r="2.35"/><circle cx="396.2" cy="394.6" r="2.35"/><circle cx="399.7" cy="393.5" r="2.35"/><circle cx="395.6" cy="394.3" r="2.35"/><circle cx="399.3" cy="395.3" r="2.35"/><circle cx="399.6" cy="397.7" r="2.35"/><circle cx="402.3" cy="393.4" r="2.35"/><circle cx="407.7" cy="388.9" r="2.35"/><circle cx="402.6" cy="390.6" r="2.35"/><circle cx="408.6" cy="393.0" r="2.35"/><circle cx="405.5" cy="392.7" r="2.35"/><circle cx="407.9" cy="389.6" r="2.35"/><circle cx="407.0" cy="385.7" r="2.35"/><circle cx="406.6" cy="393.2" r="2.35"/><circle cx="407.3" cy="326.2" r="2.35"/><circle cx="415.8" cy="325.6" r="2.35"/><circle cx="428.8" cy="326.0" r="2.35"/><circle cx="430.8" cy="328.5" r="2.35"/><circle cx="435.6" cy="325.6" r="2.35"/><circle cx="439.4" cy="325.6" r="2.35"/><circle cx="443.8" cy="326.0" r="2.35"/><circle cx="447.1" cy="331.0" r="2.35"/><circle cx="433.1" cy="332.9" r="2.35"/><circle cx="423.1" cy="335.8" r="2.35"/><circle cx="418.8" cy="339.4" r="2.35"/><circle cx="461.5" cy="328.1" r="2.35"/><circle cx="464.4" cy="330.0" r="2.35"/><circle cx="472.1" cy="331.3" r="2.35"/><circle cx="465.8" cy="336.2" r="2.35"/><circle cx="448.5" cy="339.6" r="2.35"/><circle cx="436.5" cy="341.5" r="2.35"/><circle cx="434.6" cy="343.8" r="2.35"/><circle cx="432.7" cy="345.8" r="2.35"/><circle cx="443.8" cy="346.7" r="2.35"/><circle cx="458.7" cy="345.4" r="2.35"/><circle cx="406.2" cy="352.5" r="2.35"/><circle cx="408.7" cy="356.3" r="2.35"/><circle cx="406.7" cy="360.2" r="2.35"/><circle cx="401.9" cy="363.1" r="2.35"/><circle cx="426.9" cy="352.5" r="2.35"/><circle cx="428.8" cy="354.4" r="2.35"/><circle cx="431.7" cy="355.4" r="2.35"/><circle cx="434.6" cy="351.5" r="2.35"/><circle cx="435.6" cy="348.7" r="2.35"/><circle cx="429.8" cy="358.3" r="2.35"/><circle cx="433.7" cy="361.2" r="2.35"/><circle cx="440.4" cy="365.0" r="2.35"/><circle cx="424.0" cy="366.0" r="2.35"/><circle cx="421.2" cy="368.8" r="2.35"/><circle cx="419.2" cy="374.6" r="2.35"/><circle cx="423.1" cy="383.3" r="2.35"/><circle cx="435.2" cy="390.4" r="2.35"/><circle cx="428.8" cy="372.7" r="2.35"/><circle cx="431.7" cy="370.8" r="2.35"/><circle cx="403.8" cy="368.8" r="2.35"/><circle cx="407.7" cy="372.7" r="2.35"/><circle cx="411.5" cy="376.5" r="2.35"/><circle cx="408.7" cy="380.4" r="2.35"/><circle cx="405.8" cy="384.2" r="2.35"/><circle cx="411.5" cy="386.2" r="2.35"/><circle cx="416.3" cy="388.1" r="2.35"/><circle cx="402.9" cy="376.5" r="2.35"/><circle cx="401.0" cy="371.7" r="2.35"/><circle cx="401.6" cy="377.6" r="2.35"/><circle cx="408.6" cy="387.7" r="2.35"/><circle cx="405.0" cy="384.2" r="2.35"/><circle cx="402.4" cy="374.8" r="2.35"/><circle cx="401.0" cy="382.3" r="2.35"/><circle cx="410.1" cy="385.3" r="2.35"/><circle cx="407.3" cy="390.5" r="2.35"/><circle cx="412.5" cy="382.0" r="2.35"/><circle cx="415.1" cy="373.0" r="2.35"/><circle cx="405.1" cy="381.6" r="2.35"/><circle cx="410.4" cy="390.9" r="2.35"/><circle cx="411.8" cy="369.9" r="2.35"/><circle cx="416.3" cy="379.6" r="2.35"/><circle cx="403.6" cy="386.4" r="2.35"/><circle cx="410.9" cy="388.6" r="2.35"/><circle cx="409.5" cy="374.7" r="2.35"/><circle cx="408.1" cy="379.6" r="2.35"/><circle cx="406.1" cy="382.2" r="2.35"/><circle cx="402.6" cy="374.7" r="2.35"/><circle cx="409.1" cy="385.9" r="2.35"/><circle cx="407.0" cy="389.7" r="2.35"/><circle cx="410.5" cy="384.0" r="2.35"/><circle cx="405.0" cy="389.6" r="2.35"/><circle cx="406.0" cy="388.3" r="2.35"/><circle cx="406.2" cy="351.9" r="2.35"/><circle cx="409.2" cy="355.8" r="2.35"/><circle cx="406.2" cy="359.6" r="2.35"/><circle cx="400.8" cy="362.7" r="2.35"/><circle cx="402.3" cy="368.8" r="2.35"/><circle cx="400.0" cy="372.7" r="2.35"/><circle cx="418.5" cy="389.6" r="2.35"/><circle cx="421.5" cy="390.4" r="2.35"/><circle cx="419.2" cy="395.0" r="2.35"/><circle cx="423.1" cy="398.1" r="2.35"/><circle cx="419.2" cy="407.3" r="2.35"/><circle cx="410.8" cy="407.3" r="2.35"/><circle cx="406.2" cy="405.0" r="2.35"/><circle cx="398.5" cy="386.5" r="2.35"/><circle cx="403.1" cy="389.6" r="2.35"/><circle cx="413.8" cy="389.6" r="2.35"/><circle cx="412.3" cy="369.8" r="2.35"/><circle cx="412.9" cy="369.2" r="2.35"/><circle cx="408.6" cy="375.2" r="2.35"/><circle cx="408.2" cy="374.6" r="2.35"/><circle cx="406.3" cy="375.5" r="2.35"/><circle cx="406.9" cy="384.8" r="2.35"/><circle cx="406.6" cy="392.5" r="2.35"/><circle cx="412.1" cy="385.3" r="2.35"/><circle cx="413.8" cy="376.9" r="2.35"/><circle cx="411.9" cy="366.5" r="2.35"/><circle cx="408.6" cy="373.7" r="2.35"/><circle cx="413.4" cy="366.9" r="2.35"/><circle cx="408.5" cy="378.3" r="2.35"/><circle cx="412.0" cy="383.1" r="2.35"/><circle cx="405.1" cy="383.2" r="2.35"/><circle cx="406.2" cy="381.9" r="2.35"/><circle cx="406.5" cy="391.9" r="2.35"/><circle cx="409.7" cy="372.2" r="2.35"/><circle cx="405.5" cy="391.8" r="2.35"/><circle cx="408.8" cy="371.2" r="2.35"/><circle cx="408.9" cy="383.8" r="2.35"/><circle cx="406.7" cy="385.1" r="2.35"/><circle cx="408.4" cy="384.4" r="2.35"/><circle cx="412.6" cy="367.3" r="2.35"/><circle cx="408.6" cy="369.4" r="2.35"/><circle cx="408.7" cy="367.4" r="2.35"/><circle cx="404.5" cy="378.9" r="2.35"/><circle cx="413.1" cy="369.3" r="2.35"/><circle cx="404.3" cy="384.9" r="2.35"/><circle cx="410.0" cy="373.0" r="2.35"/>
</g>
<g stroke="#fa5416">
<circle cx="361.7" cy="424.5" r="2.35"/><circle cx="360.9" cy="422.9" r="2.35"/><circle cx="360.5" cy="428.4" r="2.35"/><circle cx="359.6" cy="423.6" r="2.35"/><circle cx="361.0" cy="420.2" r="2.35"/><circle cx="361.0" cy="427.3" r="2.35"/><circle cx="361.2" cy="424.1" r="2.35"/><circle cx="359.8" cy="426.2" r="2.35"/><circle cx="360.7" cy="426.6" r="2.35"/><circle cx="359.7" cy="427.7" r="2.35"/><circle cx="360.8" cy="421.8" r="2.35"/><circle cx="361.7" cy="424.7" r="2.35"/><circle cx="360.2" cy="423.1" r="2.35"/><circle cx="362.0" cy="425.0" r="2.35"/><circle cx="362.2" cy="424.9" r="2.35"/><circle cx="361.4" cy="419.6" r="2.35"/><circle cx="360.7" cy="425.8" r="2.35"/><circle cx="360.6" cy="426.3" r="2.35"/><circle cx="366.9" cy="414.9" r="2.35"/><circle cx="366.1" cy="413.8" r="2.35"/><circle cx="367.5" cy="414.0" r="2.35"/><circle cx="369.4" cy="411.7" r="2.35"/><circle cx="367.8" cy="417.1" r="2.35"/><circle cx="368.7" cy="415.4" r="2.35"/><circle cx="367.2" cy="413.2" r="2.35"/><circle cx="367.8" cy="412.4" r="2.35"/><circle cx="368.3" cy="415.4" r="2.35"/><circle cx="370.3" cy="413.9" r="2.35"/><circle cx="369.2" cy="411.1" r="2.35"/><circle cx="369.0" cy="416.7" r="2.35"/><circle cx="368.7" cy="413.8" r="2.35"/><circle cx="368.0" cy="413.3" r="2.35"/><circle cx="365.9" cy="411.9" r="2.35"/><circle cx="369.9" cy="413.9" r="2.35"/><circle cx="364.9" cy="414.6" r="2.35"/><circle cx="370.1" cy="414.8" r="2.35"/><circle cx="387.0" cy="412.0" r="2.35"/><circle cx="388.6" cy="402.4" r="2.35"/><circle cx="385.1" cy="407.2" r="2.35"/><circle cx="397.5" cy="402.1" r="2.35"/><circle cx="391.0" cy="405.7" r="2.35"/><circle cx="402.7" cy="395.1" r="2.35"/><circle cx="395.0" cy="407.2" r="2.35"/><circle cx="395.4" cy="396.8" r="2.35"/><circle cx="387.3" cy="416.6" r="2.35"/><circle cx="398.8" cy="399.1" r="2.35"/><circle cx="388.4" cy="415.6" r="2.35"/><circle cx="390.1" cy="414.6" r="2.35"/><circle cx="396.8" cy="402.4" r="2.35"/><circle cx="383.4" cy="413.4" r="2.35"/><circle cx="393.1" cy="395.3" r="2.35"/><circle cx="383.3" cy="414.7" r="2.35"/><circle cx="401.1" cy="396.8" r="2.35"/><circle cx="383.3" cy="407.2" r="2.35"/><circle cx="403.1" cy="399.0" r="2.35"/><circle cx="393.6" cy="396.9" r="2.35"/><circle cx="384.8" cy="410.6" r="2.35"/><circle cx="389.1" cy="414.4" r="2.35"/><circle cx="395.4" cy="395.9" r="2.35"/><circle cx="389.7" cy="399.1" r="2.35"/><circle cx="399.1" cy="399.7" r="2.35"/><circle cx="402.1" cy="398.4" r="2.35"/><circle cx="398.2" cy="408.2" r="2.35"/><circle cx="391.6" cy="404.7" r="2.35"/><circle cx="398.7" cy="403.4" r="2.35"/><circle cx="399.4" cy="405.9" r="2.35"/><circle cx="393.0" cy="413.1" r="2.35"/><circle cx="398.4" cy="393.7" r="2.35"/><circle cx="385.1" cy="416.5" r="2.35"/><circle cx="400.2" cy="405.2" r="2.35"/><circle cx="396.5" cy="404.7" r="2.35"/><circle cx="394.3" cy="395.1" r="2.35"/><circle cx="395.4" cy="399.7" r="2.35"/><circle cx="385.1" cy="409.2" r="2.35"/><circle cx="392.9" cy="409.6" r="2.35"/><circle cx="392.0" cy="401.4" r="2.35"/><circle cx="401.4" cy="400.9" r="2.35"/><circle cx="388.4" cy="409.2" r="2.35"/><circle cx="392.6" cy="411.9" r="2.35"/><circle cx="387.1" cy="401.6" r="2.35"/><circle cx="385.2" cy="416.6" r="2.35"/><circle cx="395.4" cy="402.1" r="2.35"/><circle cx="380.5" cy="417.2" r="2.35"/><circle cx="384.4" cy="412.8" r="2.35"/><circle cx="381.8" cy="410.3" r="2.35"/><circle cx="384.1" cy="413.9" r="2.35"/><circle cx="385.0" cy="419.1" r="2.35"/><circle cx="382.3" cy="418.0" r="2.35"/><circle cx="382.1" cy="420.3" r="2.35"/><circle cx="381.7" cy="417.8" r="2.35"/><circle cx="386.3" cy="421.2" r="2.35"/><circle cx="384.5" cy="423.1" r="2.35"/><circle cx="383.0" cy="412.2" r="2.35"/><circle cx="385.3" cy="409.9" r="2.35"/><circle cx="385.5" cy="414.2" r="2.35"/><circle cx="384.5" cy="413.5" r="2.35"/><circle cx="382.7" cy="408.6" r="2.35"/><circle cx="388.4" cy="414.1" r="2.35"/><circle cx="386.6" cy="415.4" r="2.35"/><circle cx="384.0" cy="418.6" r="2.35"/><circle cx="382.8" cy="419.2" r="2.35"/><circle cx="384.5" cy="409.2" r="2.35"/><circle cx="386.6" cy="416.3" r="2.35"/><circle cx="386.7" cy="418.4" r="2.35"/><circle cx="378.1" cy="443.8" r="2.35"/><circle cx="378.8" cy="447.7" r="2.35"/><circle cx="381.9" cy="457.7" r="2.35"/><circle cx="379.2" cy="451.5" r="2.35"/><circle cx="382.2" cy="453.8" r="2.35"/><circle cx="375.2" cy="411.3" r="2.35"/><circle cx="374.2" cy="412.2" r="2.35"/><circle cx="376.5" cy="410.9" r="2.35"/><circle cx="372.8" cy="414.6" r="2.35"/><circle cx="375.3" cy="413.1" r="2.35"/><circle cx="373.7" cy="411.1" r="2.35"/><circle cx="376.0" cy="412.9" r="2.35"/><circle cx="375.4" cy="416.3" r="2.35"/><circle cx="371.8" cy="413.3" r="2.35"/><circle cx="373.7" cy="417.2" r="2.35"/><circle cx="370.8" cy="436.0" r="2.35"/><circle cx="380.5" cy="441.7" r="2.35"/><circle cx="380.5" cy="446.5" r="2.35"/><circle cx="380.5" cy="451.3" r="2.35"/><circle cx="381.4" cy="455.2" r="2.35"/><circle cx="379.5" cy="458.1" r="2.35"/><circle cx="383.3" cy="425.4" r="2.35"/><circle cx="380.5" cy="423.5" r="2.35"/>
</g>
</g>
<rect x="317.1" y="286.6" width="193.8" height="198.7" fill="none" stroke="#151515" stroke-width="1.25"/>
<path d="M368.4 485.3v-2.3M368.4 286.6v2.3M317.1 432.7h2.3M510.9 432.7h-2.3M425.4 485.3v-2.3M425.4 286.6v2.3M317.1 374.3h2.3M510.9 374.3h-2.3M482.4 485.3v-2.3M482.4 286.6v2.3M317.1 315.8h2.3M510.9 315.8h-2.3" stroke="#151515" stroke-width="1.15" fill="none"/>
<text x="368.4" y="512.3" font-size="19.3" text-anchor="middle">10</text>
<text x="309.1"  y="439.9" font-size="19.3" text-anchor="end">10</text>
<text x="425.4" y="512.3" font-size="19.3" text-anchor="middle">20</text>
<text x="309.1"  y="381.5" font-size="19.3" text-anchor="end">20</text>
<text x="482.4" y="512.3" font-size="19.3" text-anchor="middle">30</text>
<text x="309.1"  y="323.0" font-size="19.3" text-anchor="end">30</text>
<text x="334.1" y="315.9" font-size="18.5" letter-spacing="1">(d)</text>
<text x="146.2" y="198.7" font-size="16.15">ME: -0.04 m/s</text>
<text x="146.2" y="219.8" font-size="16.15">Corr: 0.86</text>
<text x="402.7" y="198.7" font-size="16.15">ME: 0.89 m/s</text>
<text x="402.7" y="219.8" font-size="16.15">Corr: 0.84</text>
<text x="146.2" y="450.8" font-size="16.15">ME: -0.17 m/s</text>
<text x="146.2" y="471.9" font-size="16.15">Corr: 0.86</text>
<text x="402.7" y="450.8" font-size="16.15">ME: 0.72 m/s</text>
<text x="402.7" y="471.9" font-size="16.15">Corr: 0.85</text>
<text transform="translate(21.8 134.3) rotate(-90)" font-size="20.6" letter-spacing="0.55" text-anchor="middle">Model Wind (m/s)</text>
<text transform="translate(21.8 386.8) rotate(-90)" font-size="20.6" letter-spacing="0.55" text-anchor="middle">Model Wind (m/s)</text>
<text x="157.7" y="539" font-size="20.5" letter-spacing="0.4" text-anchor="middle">Altimeter Wind (m/s)</text>
<text x="414.0" y="539" font-size="20.5" letter-spacing="0.4" text-anchor="middle">Altimeter Wind (m/s)</text>
</svg></body></html>
